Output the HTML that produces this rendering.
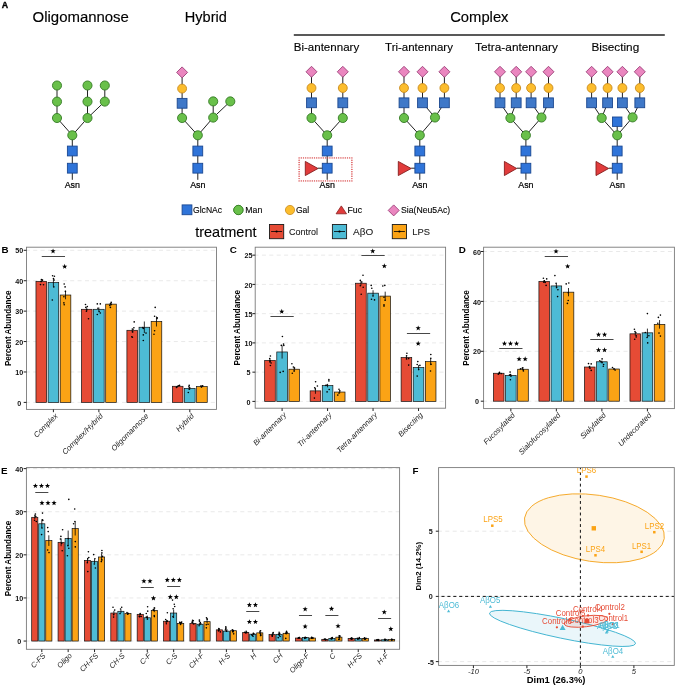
<!DOCTYPE html>
<html><head><meta charset="utf-8"><title>Figure</title>
<style>
html,body{margin:0;padding:0;background:#fff;width:676px;height:685px;overflow:hidden;}
svg{display:block;will-change:transform;}
text{font-family:"Liberation Sans",sans-serif;}
</style></head><body>
<svg width="676" height="685" viewBox="0 0 676 685">
<rect width="676" height="685" fill="#fff"/>
<line x1="72.3" y1="168.2" x2="72.3" y2="179.8" stroke="#222" stroke-width="1" />
<line x1="72.3" y1="168.2" x2="72.3" y2="151" stroke="#222" stroke-width="1" />
<line x1="72.3" y1="151" x2="72.3" y2="135.3" stroke="#222" stroke-width="1" />
<line x1="72.3" y1="135.3" x2="57" y2="118" stroke="#222" stroke-width="1" />
<line x1="72.3" y1="135.3" x2="87.5" y2="118" stroke="#222" stroke-width="1" />
<line x1="57" y1="118" x2="57" y2="85.5" stroke="#222" stroke-width="1" />
<line x1="87.5" y1="118" x2="87.5" y2="85.5" stroke="#222" stroke-width="1" />
<line x1="87.5" y1="118" x2="104.8" y2="101.5" stroke="#222" stroke-width="1" />
<line x1="104.8" y1="101.5" x2="104.8" y2="85.5" stroke="#222" stroke-width="1" />
<rect x="67.4" y="163.3" width="9.8" height="9.8" fill="#2f74d9" stroke="#1a4893" stroke-width="0.9"/>
<rect x="67.4" y="146.1" width="9.8" height="9.8" fill="#2f74d9" stroke="#1a4893" stroke-width="0.9"/>
<circle cx="72.3" cy="135.3" r="4.55" fill="#69c04a" stroke="#347a25" stroke-width="0.9"/>
<circle cx="57" cy="118" r="4.55" fill="#69c04a" stroke="#347a25" stroke-width="0.9"/>
<circle cx="57" cy="101.6" r="4.55" fill="#69c04a" stroke="#347a25" stroke-width="0.9"/>
<circle cx="57" cy="85.5" r="4.55" fill="#69c04a" stroke="#347a25" stroke-width="0.9"/>
<circle cx="87.5" cy="118" r="4.55" fill="#69c04a" stroke="#347a25" stroke-width="0.9"/>
<circle cx="87.5" cy="101.6" r="4.55" fill="#69c04a" stroke="#347a25" stroke-width="0.9"/>
<circle cx="87.5" cy="85.5" r="4.55" fill="#69c04a" stroke="#347a25" stroke-width="0.9"/>
<circle cx="104.8" cy="101.6" r="4.55" fill="#69c04a" stroke="#347a25" stroke-width="0.9"/>
<circle cx="104.8" cy="85.5" r="4.55" fill="#69c04a" stroke="#347a25" stroke-width="0.9"/>
<text x="72.3" y="188.4" font-size="8.9" text-anchor="middle" font-weight="normal" font-style="normal" fill="#000" stroke="#000" stroke-width="0.2">Asn</text>
<line x1="197.8" y1="168.2" x2="197.8" y2="179.8" stroke="#222" stroke-width="1" />
<line x1="197.8" y1="168.2" x2="197.8" y2="151" stroke="#222" stroke-width="1" />
<line x1="197.8" y1="151" x2="197.8" y2="135.3" stroke="#222" stroke-width="1" />
<line x1="197.8" y1="135.3" x2="182.1" y2="118" stroke="#222" stroke-width="1" />
<line x1="197.8" y1="135.3" x2="213.2" y2="117.6" stroke="#222" stroke-width="1" />
<line x1="182.1" y1="118" x2="182.1" y2="72.2" stroke="#222" stroke-width="1" />
<line x1="213.2" y1="117.6" x2="213.2" y2="101.4" stroke="#222" stroke-width="1" />
<line x1="213.2" y1="117.6" x2="230.3" y2="101.4" stroke="#222" stroke-width="1" />
<rect x="192.9" y="163.3" width="9.8" height="9.8" fill="#2f74d9" stroke="#1a4893" stroke-width="0.9"/>
<rect x="192.9" y="146.1" width="9.8" height="9.8" fill="#2f74d9" stroke="#1a4893" stroke-width="0.9"/>
<circle cx="197.8" cy="135.3" r="4.55" fill="#69c04a" stroke="#347a25" stroke-width="0.9"/>
<circle cx="182.1" cy="118" r="4.55" fill="#69c04a" stroke="#347a25" stroke-width="0.9"/>
<rect x="177.2" y="98.4" width="9.8" height="9.8" fill="#3f78c8" stroke="#1b478f" stroke-width="0.9"/>
<circle cx="182.1" cy="88.6" r="4.45" fill="#fcbd2d" stroke="#c98b1e" stroke-width="0.9"/>
<polygon points="182.1,66.9 187.6,72.4 182.1,77.9 176.6,72.4" fill="#ea86bf" stroke="#9c3f78" stroke-width="0.9"/>
<circle cx="213.2" cy="117.6" r="4.55" fill="#69c04a" stroke="#347a25" stroke-width="0.9"/>
<circle cx="213.2" cy="101.4" r="4.55" fill="#69c04a" stroke="#347a25" stroke-width="0.9"/>
<circle cx="230.3" cy="101.4" r="4.55" fill="#69c04a" stroke="#347a25" stroke-width="0.9"/>
<text x="197.8" y="188.4" font-size="8.9" text-anchor="middle" font-weight="normal" font-style="normal" fill="#000" stroke="#000" stroke-width="0.2">Asn</text>
<line x1="327.2" y1="168.2" x2="327.2" y2="179.8" stroke="#222" stroke-width="1" />
<line x1="327.2" y1="168.2" x2="327.2" y2="151" stroke="#222" stroke-width="1" />
<line x1="327.2" y1="151" x2="327.2" y2="135.3" stroke="#222" stroke-width="1" />
<line x1="318" y1="168.2" x2="327.2" y2="168.2" stroke="#222" stroke-width="1" />
<line x1="327.2" y1="135.3" x2="311.5" y2="118" stroke="#222" stroke-width="1" />
<line x1="327.2" y1="135.3" x2="342.8" y2="118" stroke="#222" stroke-width="1" />
<line x1="311.5" y1="118" x2="311.5" y2="71.8" stroke="#222" stroke-width="1" />
<line x1="342.8" y1="118" x2="342.8" y2="71.8" stroke="#222" stroke-width="1" />
<rect x="322.3" y="163.3" width="9.8" height="9.8" fill="#2f74d9" stroke="#1a4893" stroke-width="0.9"/>
<rect x="322.3" y="146.1" width="9.8" height="9.8" fill="#2f74d9" stroke="#1a4893" stroke-width="0.9"/>
<circle cx="327.2" cy="135.3" r="4.55" fill="#69c04a" stroke="#347a25" stroke-width="0.9"/>
<polygon points="305.3,161.45 318,168.5 305.3,175.55" fill="#e13c3c" stroke="#861c1c" stroke-width="0.9"/>
<circle cx="311.5" cy="118" r="4.55" fill="#69c04a" stroke="#347a25" stroke-width="0.9"/>
<rect x="306.6" y="97.9" width="9.8" height="9.8" fill="#3f78c8" stroke="#1b478f" stroke-width="0.9"/>
<circle cx="311.5" cy="88" r="4.45" fill="#fcbd2d" stroke="#c98b1e" stroke-width="0.9"/>
<polygon points="311.5,66.3 317,71.8 311.5,77.3 306,71.8" fill="#ea86bf" stroke="#9c3f78" stroke-width="0.9"/>
<circle cx="342.8" cy="118" r="4.55" fill="#69c04a" stroke="#347a25" stroke-width="0.9"/>
<rect x="337.9" y="97.9" width="9.8" height="9.8" fill="#3f78c8" stroke="#1b478f" stroke-width="0.9"/>
<circle cx="342.8" cy="88" r="4.45" fill="#fcbd2d" stroke="#c98b1e" stroke-width="0.9"/>
<polygon points="342.8,66.3 348.3,71.8 342.8,77.3 337.3,71.8" fill="#ea86bf" stroke="#9c3f78" stroke-width="0.9"/>
<text x="327.2" y="188.4" font-size="8.9" text-anchor="middle" font-weight="normal" font-style="normal" fill="#000" stroke="#000" stroke-width="0.2">Asn</text>
<circle cx="299.1" cy="157.9" r="0.7" fill="#d6393a"/>
<circle cx="299.1" cy="180.9" r="0.7" fill="#d6393a"/>
<circle cx="301.3" cy="157.9" r="0.7" fill="#d6393a"/>
<circle cx="301.3" cy="180.9" r="0.7" fill="#d6393a"/>
<circle cx="303.5" cy="157.9" r="0.7" fill="#d6393a"/>
<circle cx="303.5" cy="180.9" r="0.7" fill="#d6393a"/>
<circle cx="305.7" cy="157.9" r="0.7" fill="#d6393a"/>
<circle cx="305.7" cy="180.9" r="0.7" fill="#d6393a"/>
<circle cx="307.9" cy="157.9" r="0.7" fill="#d6393a"/>
<circle cx="307.9" cy="180.9" r="0.7" fill="#d6393a"/>
<circle cx="310.1" cy="157.9" r="0.7" fill="#d6393a"/>
<circle cx="310.1" cy="180.9" r="0.7" fill="#d6393a"/>
<circle cx="312.3" cy="157.9" r="0.7" fill="#d6393a"/>
<circle cx="312.3" cy="180.9" r="0.7" fill="#d6393a"/>
<circle cx="314.5" cy="157.9" r="0.7" fill="#d6393a"/>
<circle cx="314.5" cy="180.9" r="0.7" fill="#d6393a"/>
<circle cx="316.7" cy="157.9" r="0.7" fill="#d6393a"/>
<circle cx="316.7" cy="180.9" r="0.7" fill="#d6393a"/>
<circle cx="318.9" cy="157.9" r="0.7" fill="#d6393a"/>
<circle cx="318.9" cy="180.9" r="0.7" fill="#d6393a"/>
<circle cx="321.1" cy="157.9" r="0.7" fill="#d6393a"/>
<circle cx="321.1" cy="180.9" r="0.7" fill="#d6393a"/>
<circle cx="323.3" cy="157.9" r="0.7" fill="#d6393a"/>
<circle cx="323.3" cy="180.9" r="0.7" fill="#d6393a"/>
<circle cx="325.5" cy="157.9" r="0.7" fill="#d6393a"/>
<circle cx="325.5" cy="180.9" r="0.7" fill="#d6393a"/>
<circle cx="327.7" cy="157.9" r="0.7" fill="#d6393a"/>
<circle cx="327.7" cy="180.9" r="0.7" fill="#d6393a"/>
<circle cx="329.9" cy="157.9" r="0.7" fill="#d6393a"/>
<circle cx="329.9" cy="180.9" r="0.7" fill="#d6393a"/>
<circle cx="332.1" cy="157.9" r="0.7" fill="#d6393a"/>
<circle cx="332.1" cy="180.9" r="0.7" fill="#d6393a"/>
<circle cx="334.3" cy="157.9" r="0.7" fill="#d6393a"/>
<circle cx="334.3" cy="180.9" r="0.7" fill="#d6393a"/>
<circle cx="336.5" cy="157.9" r="0.7" fill="#d6393a"/>
<circle cx="336.5" cy="180.9" r="0.7" fill="#d6393a"/>
<circle cx="338.7" cy="157.9" r="0.7" fill="#d6393a"/>
<circle cx="338.7" cy="180.9" r="0.7" fill="#d6393a"/>
<circle cx="340.9" cy="157.9" r="0.7" fill="#d6393a"/>
<circle cx="340.9" cy="180.9" r="0.7" fill="#d6393a"/>
<circle cx="343.1" cy="157.9" r="0.7" fill="#d6393a"/>
<circle cx="343.1" cy="180.9" r="0.7" fill="#d6393a"/>
<circle cx="345.3" cy="157.9" r="0.7" fill="#d6393a"/>
<circle cx="345.3" cy="180.9" r="0.7" fill="#d6393a"/>
<circle cx="347.5" cy="157.9" r="0.7" fill="#d6393a"/>
<circle cx="347.5" cy="180.9" r="0.7" fill="#d6393a"/>
<circle cx="349.7" cy="157.9" r="0.7" fill="#d6393a"/>
<circle cx="349.7" cy="180.9" r="0.7" fill="#d6393a"/>
<circle cx="351.9" cy="157.9" r="0.7" fill="#d6393a"/>
<circle cx="351.9" cy="180.9" r="0.7" fill="#d6393a"/>
<circle cx="299.1" cy="160.2" r="0.7" fill="#d6393a"/>
<circle cx="351.9" cy="160.2" r="0.7" fill="#d6393a"/>
<circle cx="299.1" cy="162.5" r="0.7" fill="#d6393a"/>
<circle cx="351.9" cy="162.5" r="0.7" fill="#d6393a"/>
<circle cx="299.1" cy="164.8" r="0.7" fill="#d6393a"/>
<circle cx="351.9" cy="164.8" r="0.7" fill="#d6393a"/>
<circle cx="299.1" cy="167.1" r="0.7" fill="#d6393a"/>
<circle cx="351.9" cy="167.1" r="0.7" fill="#d6393a"/>
<circle cx="299.1" cy="169.4" r="0.7" fill="#d6393a"/>
<circle cx="351.9" cy="169.4" r="0.7" fill="#d6393a"/>
<circle cx="299.1" cy="171.7" r="0.7" fill="#d6393a"/>
<circle cx="351.9" cy="171.7" r="0.7" fill="#d6393a"/>
<circle cx="299.1" cy="174" r="0.7" fill="#d6393a"/>
<circle cx="351.9" cy="174" r="0.7" fill="#d6393a"/>
<circle cx="299.1" cy="176.3" r="0.7" fill="#d6393a"/>
<circle cx="351.9" cy="176.3" r="0.7" fill="#d6393a"/>
<circle cx="299.1" cy="178.6" r="0.7" fill="#d6393a"/>
<circle cx="351.9" cy="178.6" r="0.7" fill="#d6393a"/>
<line x1="419.8" y1="168.2" x2="419.8" y2="179.8" stroke="#222" stroke-width="1" />
<line x1="419.8" y1="168.2" x2="419.8" y2="151" stroke="#222" stroke-width="1" />
<line x1="419.8" y1="151" x2="419.8" y2="135.3" stroke="#222" stroke-width="1" />
<line x1="411.2" y1="168.2" x2="419.8" y2="168.2" stroke="#222" stroke-width="1" />
<line x1="419.8" y1="135.3" x2="404" y2="118" stroke="#222" stroke-width="1" />
<line x1="419.8" y1="135.3" x2="435" y2="117.5" stroke="#222" stroke-width="1" />
<line x1="404" y1="118" x2="404" y2="71.8" stroke="#222" stroke-width="1" />
<line x1="435" y1="117.5" x2="422.5" y2="102.8" stroke="#222" stroke-width="1" />
<line x1="435" y1="117.5" x2="444.4" y2="102.8" stroke="#222" stroke-width="1" />
<line x1="422.5" y1="102.8" x2="422.5" y2="71.8" stroke="#222" stroke-width="1" />
<line x1="444.4" y1="102.8" x2="444.4" y2="71.8" stroke="#222" stroke-width="1" />
<rect x="414.9" y="163.3" width="9.8" height="9.8" fill="#2f74d9" stroke="#1a4893" stroke-width="0.9"/>
<rect x="414.9" y="146.1" width="9.8" height="9.8" fill="#2f74d9" stroke="#1a4893" stroke-width="0.9"/>
<circle cx="419.8" cy="135.3" r="4.55" fill="#69c04a" stroke="#347a25" stroke-width="0.9"/>
<polygon points="398.3,161.45 411.2,168.5 398.3,175.55" fill="#e13c3c" stroke="#861c1c" stroke-width="0.9"/>
<circle cx="404" cy="118" r="4.55" fill="#69c04a" stroke="#347a25" stroke-width="0.9"/>
<circle cx="435" cy="117.5" r="4.55" fill="#69c04a" stroke="#347a25" stroke-width="0.9"/>
<rect x="399.1" y="97.9" width="9.8" height="9.8" fill="#3f78c8" stroke="#1b478f" stroke-width="0.9"/>
<circle cx="404" cy="88" r="4.45" fill="#fcbd2d" stroke="#c98b1e" stroke-width="0.9"/>
<polygon points="404,66.3 409.5,71.8 404,77.3 398.5,71.8" fill="#ea86bf" stroke="#9c3f78" stroke-width="0.9"/>
<rect x="417.6" y="97.9" width="9.8" height="9.8" fill="#3f78c8" stroke="#1b478f" stroke-width="0.9"/>
<circle cx="422.5" cy="88" r="4.45" fill="#fcbd2d" stroke="#c98b1e" stroke-width="0.9"/>
<polygon points="422.5,66.3 428,71.8 422.5,77.3 417,71.8" fill="#ea86bf" stroke="#9c3f78" stroke-width="0.9"/>
<rect x="439.5" y="97.9" width="9.8" height="9.8" fill="#3f78c8" stroke="#1b478f" stroke-width="0.9"/>
<circle cx="444.4" cy="88" r="4.45" fill="#fcbd2d" stroke="#c98b1e" stroke-width="0.9"/>
<polygon points="444.4,66.3 449.9,71.8 444.4,77.3 438.9,71.8" fill="#ea86bf" stroke="#9c3f78" stroke-width="0.9"/>
<text x="419.8" y="188.4" font-size="8.9" text-anchor="middle" font-weight="normal" font-style="normal" fill="#000" stroke="#000" stroke-width="0.2">Asn</text>
<line x1="525.9" y1="168.2" x2="525.9" y2="179.8" stroke="#222" stroke-width="1" />
<line x1="525.9" y1="168.2" x2="525.9" y2="151" stroke="#222" stroke-width="1" />
<line x1="525.9" y1="151" x2="525.9" y2="135.3" stroke="#222" stroke-width="1" />
<line x1="516.7" y1="168.2" x2="525.9" y2="168.2" stroke="#222" stroke-width="1" />
<line x1="525.9" y1="135.3" x2="510.4" y2="118" stroke="#222" stroke-width="1" />
<line x1="525.9" y1="135.3" x2="541.5" y2="117.5" stroke="#222" stroke-width="1" />
<line x1="510.4" y1="118" x2="500" y2="102.8" stroke="#222" stroke-width="1" />
<line x1="510.4" y1="118" x2="516.2" y2="102.8" stroke="#222" stroke-width="1" />
<line x1="541.5" y1="117.5" x2="531.1" y2="102.8" stroke="#222" stroke-width="1" />
<line x1="541.5" y1="117.5" x2="548.5" y2="102.8" stroke="#222" stroke-width="1" />
<line x1="500" y1="102.8" x2="500" y2="71.8" stroke="#222" stroke-width="1" />
<line x1="516.2" y1="102.8" x2="516.2" y2="71.8" stroke="#222" stroke-width="1" />
<line x1="531.1" y1="102.8" x2="531.1" y2="71.8" stroke="#222" stroke-width="1" />
<line x1="548.5" y1="102.8" x2="548.5" y2="71.8" stroke="#222" stroke-width="1" />
<rect x="521" y="163.3" width="9.8" height="9.8" fill="#2f74d9" stroke="#1a4893" stroke-width="0.9"/>
<rect x="521" y="146.1" width="9.8" height="9.8" fill="#2f74d9" stroke="#1a4893" stroke-width="0.9"/>
<circle cx="525.9" cy="135.3" r="4.55" fill="#69c04a" stroke="#347a25" stroke-width="0.9"/>
<polygon points="504.4,161.45 516.7,168.5 504.4,175.55" fill="#e13c3c" stroke="#861c1c" stroke-width="0.9"/>
<circle cx="510.4" cy="118" r="4.55" fill="#69c04a" stroke="#347a25" stroke-width="0.9"/>
<circle cx="541.5" cy="117.5" r="4.55" fill="#69c04a" stroke="#347a25" stroke-width="0.9"/>
<rect x="495.1" y="97.9" width="9.8" height="9.8" fill="#3f78c8" stroke="#1b478f" stroke-width="0.9"/>
<circle cx="500" cy="88" r="4.45" fill="#fcbd2d" stroke="#c98b1e" stroke-width="0.9"/>
<polygon points="500,66.3 505.5,71.8 500,77.3 494.5,71.8" fill="#ea86bf" stroke="#9c3f78" stroke-width="0.9"/>
<rect x="511.3" y="97.9" width="9.8" height="9.8" fill="#3f78c8" stroke="#1b478f" stroke-width="0.9"/>
<circle cx="516.2" cy="88" r="4.45" fill="#fcbd2d" stroke="#c98b1e" stroke-width="0.9"/>
<polygon points="516.2,66.3 521.7,71.8 516.2,77.3 510.7,71.8" fill="#ea86bf" stroke="#9c3f78" stroke-width="0.9"/>
<rect x="526.2" y="97.9" width="9.8" height="9.8" fill="#3f78c8" stroke="#1b478f" stroke-width="0.9"/>
<circle cx="531.1" cy="88" r="4.45" fill="#fcbd2d" stroke="#c98b1e" stroke-width="0.9"/>
<polygon points="531.1,66.3 536.6,71.8 531.1,77.3 525.6,71.8" fill="#ea86bf" stroke="#9c3f78" stroke-width="0.9"/>
<rect x="543.6" y="97.9" width="9.8" height="9.8" fill="#3f78c8" stroke="#1b478f" stroke-width="0.9"/>
<circle cx="548.5" cy="88" r="4.45" fill="#fcbd2d" stroke="#c98b1e" stroke-width="0.9"/>
<polygon points="548.5,66.3 554,71.8 548.5,77.3 543,71.8" fill="#ea86bf" stroke="#9c3f78" stroke-width="0.9"/>
<text x="525.9" y="188.4" font-size="8.9" text-anchor="middle" font-weight="normal" font-style="normal" fill="#000" stroke="#000" stroke-width="0.2">Asn</text>
<line x1="617.2" y1="168.2" x2="617.2" y2="179.8" stroke="#222" stroke-width="1" />
<line x1="617.2" y1="168.2" x2="617.2" y2="151" stroke="#222" stroke-width="1" />
<line x1="617.2" y1="151" x2="617.2" y2="135.3" stroke="#222" stroke-width="1" />
<line x1="608.6" y1="168.2" x2="617.2" y2="168.2" stroke="#222" stroke-width="1" />
<line x1="617.2" y1="135.3" x2="601.7" y2="118" stroke="#222" stroke-width="1" />
<line x1="617.2" y1="135.3" x2="632.6" y2="117.4" stroke="#222" stroke-width="1" />
<line x1="617.2" y1="135.3" x2="617.2" y2="121.7" stroke="#222" stroke-width="1" />
<line x1="601.7" y1="118" x2="591.6" y2="102.8" stroke="#222" stroke-width="1" />
<line x1="601.7" y1="118" x2="607.6" y2="102.8" stroke="#222" stroke-width="1" />
<line x1="632.6" y1="117.4" x2="622.4" y2="102.8" stroke="#222" stroke-width="1" />
<line x1="632.6" y1="117.4" x2="639.8" y2="102.8" stroke="#222" stroke-width="1" />
<line x1="591.6" y1="102.8" x2="591.6" y2="71.8" stroke="#222" stroke-width="1" />
<line x1="607.6" y1="102.8" x2="607.6" y2="71.8" stroke="#222" stroke-width="1" />
<line x1="622.4" y1="102.8" x2="622.4" y2="71.8" stroke="#222" stroke-width="1" />
<line x1="639.8" y1="102.8" x2="639.8" y2="71.8" stroke="#222" stroke-width="1" />
<rect x="612.3" y="163.3" width="9.8" height="9.8" fill="#2f74d9" stroke="#1a4893" stroke-width="0.9"/>
<rect x="612.3" y="146.1" width="9.8" height="9.8" fill="#2f74d9" stroke="#1a4893" stroke-width="0.9"/>
<circle cx="617.2" cy="135.3" r="4.55" fill="#69c04a" stroke="#347a25" stroke-width="0.9"/>
<polygon points="596,161.45 608.6,168.5 596,175.55" fill="#e13c3c" stroke="#861c1c" stroke-width="0.9"/>
<circle cx="601.7" cy="118" r="4.55" fill="#69c04a" stroke="#347a25" stroke-width="0.9"/>
<circle cx="632.6" cy="117.4" r="4.55" fill="#69c04a" stroke="#347a25" stroke-width="0.9"/>
<rect x="612.5" y="117" width="9.4" height="9.4" fill="#2f74d9" stroke="#1a4893" stroke-width="0.9"/>
<rect x="586.7" y="97.9" width="9.8" height="9.8" fill="#3f78c8" stroke="#1b478f" stroke-width="0.9"/>
<circle cx="591.6" cy="88" r="4.45" fill="#fcbd2d" stroke="#c98b1e" stroke-width="0.9"/>
<polygon points="591.6,66.3 597.1,71.8 591.6,77.3 586.1,71.8" fill="#ea86bf" stroke="#9c3f78" stroke-width="0.9"/>
<rect x="602.7" y="97.9" width="9.8" height="9.8" fill="#3f78c8" stroke="#1b478f" stroke-width="0.9"/>
<circle cx="607.6" cy="88" r="4.45" fill="#fcbd2d" stroke="#c98b1e" stroke-width="0.9"/>
<polygon points="607.6,66.3 613.1,71.8 607.6,77.3 602.1,71.8" fill="#ea86bf" stroke="#9c3f78" stroke-width="0.9"/>
<rect x="617.5" y="97.9" width="9.8" height="9.8" fill="#3f78c8" stroke="#1b478f" stroke-width="0.9"/>
<circle cx="622.4" cy="88" r="4.45" fill="#fcbd2d" stroke="#c98b1e" stroke-width="0.9"/>
<polygon points="622.4,66.3 627.9,71.8 622.4,77.3 616.9,71.8" fill="#ea86bf" stroke="#9c3f78" stroke-width="0.9"/>
<rect x="634.9" y="97.9" width="9.8" height="9.8" fill="#3f78c8" stroke="#1b478f" stroke-width="0.9"/>
<circle cx="639.8" cy="88" r="4.45" fill="#fcbd2d" stroke="#c98b1e" stroke-width="0.9"/>
<polygon points="639.8,66.3 645.3,71.8 639.8,77.3 634.3,71.8" fill="#ea86bf" stroke="#9c3f78" stroke-width="0.9"/>
<text x="617.2" y="188.4" font-size="8.9" text-anchor="middle" font-weight="normal" font-style="normal" fill="#000" stroke="#000" stroke-width="0.2">Asn</text>
<text x="1.7" y="8.1" font-size="8.8" text-anchor="start" font-weight="bold" font-style="normal" fill="#000" stroke="#000" stroke-width="0.35">A</text>
<text x="32.6" y="21.7" font-size="15.5" text-anchor="start" font-weight="normal" font-style="normal" fill="#000" textLength="96.3" lengthAdjust="spacingAndGlyphs" stroke="#000" stroke-width="0.15">Oligomannose</text>
<text x="184.8" y="21.8" font-size="15.5" text-anchor="start" font-weight="normal" font-style="normal" fill="#000" textLength="42" lengthAdjust="spacingAndGlyphs" stroke="#000" stroke-width="0.15">Hybrid</text>
<text x="450.2" y="21.7" font-size="15.3" text-anchor="start" font-weight="normal" font-style="normal" fill="#000" textLength="58.3" lengthAdjust="spacingAndGlyphs" stroke="#000" stroke-width="0.15">Complex</text>
<line x1="293.8" y1="35" x2="664.8" y2="35" stroke="#222" stroke-width="1.6" />
<text x="293.7" y="50.9" font-size="11" text-anchor="start" font-weight="normal" font-style="normal" fill="#000" textLength="65.5" lengthAdjust="spacingAndGlyphs" stroke="#000" stroke-width="0.12">Bi-antennary</text>
<text x="385.1" y="50.9" font-size="11" text-anchor="start" font-weight="normal" font-style="normal" fill="#000" textLength="67.8" lengthAdjust="spacingAndGlyphs" stroke="#000" stroke-width="0.12">Tri-antennary</text>
<text x="475.1" y="50.9" font-size="11" text-anchor="start" font-weight="normal" font-style="normal" fill="#000" textLength="82.8" lengthAdjust="spacingAndGlyphs" stroke="#000" stroke-width="0.12">Tetra-antennary</text>
<text x="591.5" y="50.9" font-size="11" text-anchor="start" font-weight="normal" font-style="normal" fill="#000" textLength="47.7" lengthAdjust="spacingAndGlyphs" stroke="#000" stroke-width="0.12">Bisecting</text>
<rect x="182.1" y="204.9" width="9.8" height="9.8" fill="#2f74d9" stroke="#1a4893" stroke-width="0.9"/>
<text x="193" y="212.6" font-size="8.4" text-anchor="start" font-weight="normal" font-style="normal" fill="#000" textLength="29.1" lengthAdjust="spacingAndGlyphs" stroke="#000" stroke-width="0.1">GlcNAc</text>
<circle cx="238.4" cy="210" r="4.55" fill="#69c04a" stroke="#347a25" stroke-width="0.9"/>
<circle cx="238.4" cy="210" r="4.7" fill="#69c04a" stroke="#347a25" stroke-width="0.8"/>
<text x="245.3" y="212.6" font-size="8.4" text-anchor="start" font-weight="normal" font-style="normal" fill="#000" textLength="17" lengthAdjust="spacingAndGlyphs" stroke="#000" stroke-width="0.1">Man</text>
<circle cx="290" cy="210" r="4.6" fill="#fcbd2d" stroke="#c98b1e" stroke-width="0.8"/>
<text x="295.9" y="212.6" font-size="8.4" text-anchor="start" font-weight="normal" font-style="normal" fill="#000" textLength="13.3" lengthAdjust="spacingAndGlyphs" stroke="#000" stroke-width="0.1">Gal</text>
<polygon points="341.3,205.9 346.5,213.8 336.1,213.8" fill="#e13c3c" stroke="#861c1c" stroke-width="0.8"/>
<text x="347.5" y="212.6" font-size="8.4" text-anchor="start" font-weight="normal" font-style="normal" fill="#000" textLength="14.6" lengthAdjust="spacingAndGlyphs" stroke="#000" stroke-width="0.1">Fuc</text>
<polygon points="393.7,204.9 399.2,210.4 393.7,215.9 388.2,210.4" fill="#ea86bf" stroke="#9c3f78" stroke-width="0.9"/>
<text x="401" y="212.6" font-size="8.4" text-anchor="start" font-weight="normal" font-style="normal" fill="#000" textLength="49.2" lengthAdjust="spacingAndGlyphs" stroke="#000" stroke-width="0.1">Sia(Neu5Ac)</text>
<text x="195.2" y="237.2" font-size="14.8" text-anchor="start" font-weight="normal" font-style="normal" fill="#000" textLength="61.3" lengthAdjust="spacingAndGlyphs" stroke="#000" stroke-width="0.12">treatment</text>
<rect x="269.5" y="224.5" width="14.2" height="14.2" fill="#E64B35" stroke="#1a1a1a" stroke-width="0.9"/>
<line x1="271.1" y1="231.5" x2="282.1" y2="231.5" stroke="#000" stroke-width="0.8" />
<circle cx="276.6" cy="231.5" r="1.1" fill="#000"/>
<text x="289" y="235" font-size="9.2" text-anchor="start" font-weight="normal" font-style="normal" fill="#222" textLength="29" lengthAdjust="spacingAndGlyphs" stroke="#222" stroke-width="0.1">Control</text>
<rect x="332.4" y="224.5" width="14.2" height="14.2" fill="#4DBBD5" stroke="#1a1a1a" stroke-width="0.9"/>
<line x1="334" y1="231.5" x2="345" y2="231.5" stroke="#000" stroke-width="0.8" />
<circle cx="339.5" cy="231.5" r="1.1" fill="#000"/>
<text x="353.1" y="235" font-size="9.2" text-anchor="start" font-weight="normal" font-style="normal" fill="#222" textLength="20.2" lengthAdjust="spacingAndGlyphs" stroke="#222" stroke-width="0.1">A&#946;O</text>
<rect x="392.3" y="224.5" width="14.2" height="14.2" fill="#FBA315" stroke="#1a1a1a" stroke-width="0.9"/>
<line x1="393.9" y1="231.5" x2="404.9" y2="231.5" stroke="#000" stroke-width="0.8" />
<circle cx="399.4" cy="231.5" r="1.1" fill="#000"/>
<text x="412.3" y="235" font-size="9.2" text-anchor="start" font-weight="normal" font-style="normal" fill="#222" textLength="17.7" lengthAdjust="spacingAndGlyphs" stroke="#222" stroke-width="0.1">LPS</text>
<text x="1.4" y="253" font-size="9.8" text-anchor="start" font-weight="bold" font-style="normal" fill="#000" >B</text>
<line x1="26.5" y1="402.4" x2="216.5" y2="402.4" stroke="#dadada" stroke-width="0.6" stroke-dasharray="4.0,3.4" stroke-dashoffset="0.7"/>
<line x1="26.5" y1="371.98" x2="216.5" y2="371.98" stroke="#dadada" stroke-width="0.6" stroke-dasharray="4.0,3.4" stroke-dashoffset="0.7"/>
<line x1="26.5" y1="341.56" x2="216.5" y2="341.56" stroke="#dadada" stroke-width="0.6" stroke-dasharray="4.0,3.4" stroke-dashoffset="0.7"/>
<line x1="26.5" y1="311.14" x2="216.5" y2="311.14" stroke="#dadada" stroke-width="0.6" stroke-dasharray="4.0,3.4" stroke-dashoffset="0.7"/>
<line x1="26.5" y1="280.72" x2="216.5" y2="280.72" stroke="#dadada" stroke-width="0.6" stroke-dasharray="4.0,3.4" stroke-dashoffset="0.7"/>
<line x1="26.5" y1="250.3" x2="216.5" y2="250.3" stroke="#dadada" stroke-width="0.6" stroke-dasharray="4.0,3.4" stroke-dashoffset="0.7"/>
<rect x="35.97" y="281.33" width="10.61" height="121.07" fill="#E64B35" stroke="#111" stroke-width="0.7"/>
<rect x="48.1" y="282.55" width="10.61" height="119.85" fill="#4DBBD5" stroke="#111" stroke-width="0.7"/>
<rect x="60.22" y="295.02" width="10.61" height="107.38" fill="#FBA315" stroke="#111" stroke-width="0.7"/>
<circle cx="40.5" cy="284.6" r="0.82" fill="#000"/>
<circle cx="43.5" cy="284.7" r="0.82" fill="#000"/>
<circle cx="41.4" cy="279.5" r="0.82" fill="#000"/>
<circle cx="42.2" cy="280.3" r="0.82" fill="#000"/>
<circle cx="41" cy="281.5" r="0.82" fill="#000"/>
<circle cx="42.5" cy="280" r="0.82" fill="#000"/>
<line x1="41.27" y1="282.24" x2="41.27" y2="280.42" stroke="#000" stroke-width="0.8" />
<circle cx="52.6" cy="275.7" r="0.82" fill="#000"/>
<circle cx="54.4" cy="276.3" r="0.82" fill="#000"/>
<circle cx="54.1" cy="280.1" r="0.82" fill="#000"/>
<circle cx="53.8" cy="286.9" r="0.82" fill="#000"/>
<circle cx="52.3" cy="300" r="0.82" fill="#000"/>
<circle cx="53.5" cy="278.5" r="0.82" fill="#000"/>
<line x1="53.4" y1="286.5" x2="53.4" y2="278.59" stroke="#000" stroke-width="0.8" />
<circle cx="64.2" cy="284" r="0.82" fill="#000"/>
<circle cx="65.1" cy="286.9" r="0.82" fill="#000"/>
<circle cx="65.4" cy="291.4" r="0.82" fill="#000"/>
<circle cx="63.9" cy="296.7" r="0.82" fill="#000"/>
<circle cx="63.9" cy="302.9" r="0.82" fill="#000"/>
<circle cx="64.2" cy="304.7" r="0.82" fill="#000"/>
<line x1="65.53" y1="299.28" x2="65.53" y2="290.76" stroke="#000" stroke-width="0.8" />
<rect x="81.44" y="309.31" width="10.61" height="93.09" fill="#E64B35" stroke="#111" stroke-width="0.7"/>
<rect x="93.57" y="309.31" width="10.61" height="93.09" fill="#4DBBD5" stroke="#111" stroke-width="0.7"/>
<rect x="105.69" y="304.14" width="10.61" height="98.26" fill="#FBA315" stroke="#111" stroke-width="0.7"/>
<circle cx="85.5" cy="304.5" r="0.82" fill="#000"/>
<circle cx="87.3" cy="306.5" r="0.82" fill="#000"/>
<circle cx="85.8" cy="307.4" r="0.82" fill="#000"/>
<circle cx="86.7" cy="309.8" r="0.82" fill="#000"/>
<circle cx="86.4" cy="311.3" r="0.82" fill="#000"/>
<circle cx="88.5" cy="318.7" r="0.82" fill="#000"/>
<line x1="86.74" y1="311.14" x2="86.74" y2="307.49" stroke="#000" stroke-width="0.8" />
<circle cx="97.3" cy="303.9" r="0.82" fill="#000"/>
<circle cx="100.3" cy="303.9" r="0.82" fill="#000"/>
<circle cx="97.9" cy="308.3" r="0.82" fill="#000"/>
<circle cx="99.1" cy="311.6" r="0.82" fill="#000"/>
<circle cx="100.3" cy="313" r="0.82" fill="#000"/>
<circle cx="97.3" cy="314.5" r="0.82" fill="#000"/>
<line x1="98.87" y1="311.14" x2="98.87" y2="307.49" stroke="#000" stroke-width="0.8" />
<circle cx="110.4" cy="303.8" r="0.82" fill="#000"/>
<circle cx="111.2" cy="302.4" r="0.82" fill="#000"/>
<circle cx="109.8" cy="305.4" r="0.82" fill="#000"/>
<circle cx="110.4" cy="307.4" r="0.82" fill="#000"/>
<circle cx="111" cy="304.5" r="0.82" fill="#000"/>
<line x1="111" y1="305.36" x2="111" y2="302.93" stroke="#000" stroke-width="0.8" />
<rect x="126.91" y="330.3" width="10.61" height="72.1" fill="#E64B35" stroke="#111" stroke-width="0.7"/>
<rect x="139.04" y="327.26" width="10.61" height="75.14" fill="#4DBBD5" stroke="#111" stroke-width="0.7"/>
<rect x="151.16" y="321.48" width="10.61" height="80.92" fill="#FBA315" stroke="#111" stroke-width="0.7"/>
<circle cx="134.2" cy="321.9" r="0.82" fill="#000"/>
<circle cx="133.9" cy="327.8" r="0.82" fill="#000"/>
<circle cx="133" cy="329.3" r="0.82" fill="#000"/>
<circle cx="132.7" cy="331.9" r="0.82" fill="#000"/>
<circle cx="131.8" cy="336.7" r="0.82" fill="#000"/>
<circle cx="132.4" cy="337.2" r="0.82" fill="#000"/>
<line x1="132.21" y1="332.43" x2="132.21" y2="328.18" stroke="#000" stroke-width="0.8" />
<circle cx="142.8" cy="327.5" r="0.82" fill="#000"/>
<circle cx="143.3" cy="328.4" r="0.82" fill="#000"/>
<circle cx="146" cy="333.1" r="0.82" fill="#000"/>
<circle cx="143.3" cy="334.9" r="0.82" fill="#000"/>
<circle cx="143.3" cy="340.5" r="0.82" fill="#000"/>
<line x1="144.34" y1="333.04" x2="144.34" y2="321.48" stroke="#000" stroke-width="0.8" />
<circle cx="155.2" cy="307.4" r="0.82" fill="#000"/>
<circle cx="154.6" cy="316.2" r="0.82" fill="#000"/>
<circle cx="157.2" cy="317.7" r="0.82" fill="#000"/>
<circle cx="154.6" cy="330.7" r="0.82" fill="#000"/>
<circle cx="154" cy="334.3" r="0.82" fill="#000"/>
<circle cx="157" cy="318.6" r="0.82" fill="#000"/>
<line x1="156.47" y1="326.5" x2="156.47" y2="316.46" stroke="#000" stroke-width="0.8" />
<rect x="172.38" y="386.28" width="10.61" height="16.12" fill="#E64B35" stroke="#111" stroke-width="0.7"/>
<rect x="184.51" y="388.41" width="10.61" height="13.99" fill="#4DBBD5" stroke="#111" stroke-width="0.7"/>
<rect x="196.63" y="386.58" width="10.61" height="15.82" fill="#FBA315" stroke="#111" stroke-width="0.7"/>
<circle cx="177.1" cy="386.8" r="0.82" fill="#000"/>
<circle cx="178.3" cy="385.7" r="0.82" fill="#000"/>
<circle cx="179.5" cy="385.4" r="0.82" fill="#000"/>
<circle cx="176.5" cy="387.4" r="0.82" fill="#000"/>
<line x1="177.68" y1="386.73" x2="177.68" y2="385.82" stroke="#000" stroke-width="0.8" />
<circle cx="189.2" cy="385.4" r="0.82" fill="#000"/>
<circle cx="188.9" cy="386.8" r="0.82" fill="#000"/>
<circle cx="189.5" cy="387.7" r="0.82" fill="#000"/>
<circle cx="189.2" cy="389.2" r="0.82" fill="#000"/>
<circle cx="188.3" cy="392.5" r="0.82" fill="#000"/>
<line x1="189.81" y1="389.62" x2="189.81" y2="387.19" stroke="#000" stroke-width="0.8" />
<circle cx="200.8" cy="386" r="0.82" fill="#000"/>
<circle cx="202.2" cy="385.7" r="0.82" fill="#000"/>
<circle cx="201.4" cy="387.1" r="0.82" fill="#000"/>
<circle cx="202.8" cy="386" r="0.82" fill="#000"/>
<line x1="201.94" y1="387.19" x2="201.94" y2="385.97" stroke="#000" stroke-width="0.8" />
<line x1="41.77" y1="256.5" x2="65.03" y2="256.5" stroke="#333" stroke-width="0.9" />
<polygon points="53.05,248.45 53.73,250.27 55.67,250.35 54.14,251.56 54.67,253.42 53.05,252.35 51.43,253.42 51.96,251.56 50.43,250.35 52.37,250.27" fill="#000"/>
<polygon points="64.68,263.85 65.35,265.67 67.29,265.75 65.77,266.96 66.29,268.82 64.68,267.75 63.06,268.82 63.58,266.96 62.06,265.75 64,265.67" fill="#000"/>
<rect x="26.5" y="247.2" width="190" height="162.2" fill="none" stroke="#7a7a7a" stroke-width="0.9"/>
<line x1="23.7" y1="402.4" x2="26.5" y2="402.4" stroke="#222" stroke-width="1" />
<text x="19.35" y="405.5" font-size="7.8" text-anchor="middle" font-weight="bold" font-style="normal" fill="#111" textLength="4" lengthAdjust="spacingAndGlyphs" >0</text>
<line x1="23.7" y1="371.98" x2="26.5" y2="371.98" stroke="#222" stroke-width="1" />
<text x="19.35" y="375.08" font-size="7.8" text-anchor="middle" font-weight="bold" font-style="normal" fill="#111" textLength="8" lengthAdjust="spacingAndGlyphs" >10</text>
<line x1="23.7" y1="341.56" x2="26.5" y2="341.56" stroke="#222" stroke-width="1" />
<text x="19.35" y="344.66" font-size="7.8" text-anchor="middle" font-weight="bold" font-style="normal" fill="#111" textLength="8" lengthAdjust="spacingAndGlyphs" >20</text>
<line x1="23.7" y1="311.14" x2="26.5" y2="311.14" stroke="#222" stroke-width="1" />
<text x="19.35" y="314.24" font-size="7.8" text-anchor="middle" font-weight="bold" font-style="normal" fill="#111" textLength="8" lengthAdjust="spacingAndGlyphs" >30</text>
<line x1="23.7" y1="280.72" x2="26.5" y2="280.72" stroke="#222" stroke-width="1" />
<text x="19.35" y="283.82" font-size="7.8" text-anchor="middle" font-weight="bold" font-style="normal" fill="#111" textLength="8" lengthAdjust="spacingAndGlyphs" >40</text>
<line x1="23.7" y1="250.3" x2="26.5" y2="250.3" stroke="#222" stroke-width="1" />
<text x="19.35" y="253.4" font-size="7.8" text-anchor="middle" font-weight="bold" font-style="normal" fill="#111" textLength="8" lengthAdjust="spacingAndGlyphs" >50</text>
<line x1="53.4" y1="409.4" x2="53.4" y2="412.2" stroke="#222" stroke-width="1" />
<text transform="translate(58.1,416.6) rotate(-45)" font-size="7.65" text-anchor="end" font-style="italic" fill="#222">Complex</text>
<line x1="98.87" y1="409.4" x2="98.87" y2="412.2" stroke="#222" stroke-width="1" />
<text transform="translate(103.57,416.6) rotate(-45)" font-size="7.65" text-anchor="end" font-style="italic" fill="#222">Complex/Hybrid</text>
<line x1="144.34" y1="409.4" x2="144.34" y2="412.2" stroke="#222" stroke-width="1" />
<text transform="translate(149.04,416.6) rotate(-45)" font-size="7.65" text-anchor="end" font-style="italic" fill="#222">Oligomannose</text>
<line x1="189.81" y1="409.4" x2="189.81" y2="412.2" stroke="#222" stroke-width="1" />
<text transform="translate(194.51,416.6) rotate(-45)" font-size="7.65" text-anchor="end" font-style="italic" fill="#222">Hybrid</text>
<text transform="translate(11,328.3) scale(1.15,1) rotate(-90)" font-size="8.1" text-anchor="middle" font-weight="bold" fill="#000" textLength="75.5" lengthAdjust="spacingAndGlyphs">Percent Abundance</text>
<text x="229.7" y="253.3" font-size="9.8" text-anchor="start" font-weight="bold" font-style="normal" fill="#000" >C</text>
<line x1="255.2" y1="401.4" x2="445.6" y2="401.4" stroke="#dadada" stroke-width="0.6" stroke-dasharray="4.0,3.4" stroke-dashoffset="0.7"/>
<line x1="255.2" y1="372.15" x2="445.6" y2="372.15" stroke="#dadada" stroke-width="0.6" stroke-dasharray="4.0,3.4" stroke-dashoffset="0.7"/>
<line x1="255.2" y1="342.9" x2="445.6" y2="342.9" stroke="#dadada" stroke-width="0.6" stroke-dasharray="4.0,3.4" stroke-dashoffset="0.7"/>
<line x1="255.2" y1="313.65" x2="445.6" y2="313.65" stroke="#dadada" stroke-width="0.6" stroke-dasharray="4.0,3.4" stroke-dashoffset="0.7"/>
<line x1="255.2" y1="284.4" x2="445.6" y2="284.4" stroke="#dadada" stroke-width="0.6" stroke-dasharray="4.0,3.4" stroke-dashoffset="0.7"/>
<line x1="255.2" y1="255.15" x2="445.6" y2="255.15" stroke="#dadada" stroke-width="0.6" stroke-dasharray="4.0,3.4" stroke-dashoffset="0.7"/>
<rect x="264.67" y="360.45" width="10.61" height="40.95" fill="#E64B35" stroke="#111" stroke-width="0.7"/>
<rect x="276.79" y="351.97" width="10.61" height="49.43" fill="#4DBBD5" stroke="#111" stroke-width="0.7"/>
<rect x="288.92" y="369.22" width="10.61" height="32.18" fill="#FBA315" stroke="#111" stroke-width="0.7"/>
<circle cx="270.4" cy="356" r="0.82" fill="#000"/>
<circle cx="269.7" cy="358.6" r="0.82" fill="#000"/>
<circle cx="270" cy="361.9" r="0.82" fill="#000"/>
<circle cx="271.1" cy="363" r="0.82" fill="#000"/>
<circle cx="270.4" cy="365.5" r="0.82" fill="#000"/>
<circle cx="270" cy="360.8" r="0.82" fill="#000"/>
<line x1="269.97" y1="362.2" x2="269.97" y2="358.69" stroke="#000" stroke-width="0.8" />
<circle cx="282.4" cy="336.5" r="0.82" fill="#000"/>
<circle cx="281.3" cy="345.4" r="0.82" fill="#000"/>
<circle cx="283.5" cy="344.1" r="0.82" fill="#000"/>
<circle cx="283.8" cy="345.4" r="0.82" fill="#000"/>
<circle cx="280.2" cy="372.4" r="0.82" fill="#000"/>
<circle cx="283.2" cy="371.4" r="0.82" fill="#000"/>
<line x1="282.1" y1="358.58" x2="282.1" y2="345.36" stroke="#000" stroke-width="0.8" />
<circle cx="291.9" cy="363.7" r="0.82" fill="#000"/>
<circle cx="293.4" cy="367" r="0.82" fill="#000"/>
<circle cx="294.5" cy="368.1" r="0.82" fill="#000"/>
<circle cx="294.1" cy="371" r="0.82" fill="#000"/>
<circle cx="292.3" cy="373.2" r="0.82" fill="#000"/>
<line x1="294.23" y1="371.56" x2="294.23" y2="366.88" stroke="#000" stroke-width="0.8" />
<rect x="310.15" y="390.87" width="10.61" height="10.53" fill="#E64B35" stroke="#111" stroke-width="0.7"/>
<rect x="322.27" y="385.6" width="10.61" height="15.8" fill="#4DBBD5" stroke="#111" stroke-width="0.7"/>
<rect x="334.4" y="392.04" width="10.61" height="9.36" fill="#FBA315" stroke="#111" stroke-width="0.7"/>
<circle cx="315.6" cy="381.8" r="0.82" fill="#000"/>
<circle cx="317.4" cy="386" r="0.82" fill="#000"/>
<circle cx="314.7" cy="387.8" r="0.82" fill="#000"/>
<circle cx="315.3" cy="389" r="0.82" fill="#000"/>
<circle cx="314.4" cy="398.1" r="0.82" fill="#000"/>
<line x1="315.45" y1="393.79" x2="315.45" y2="387.94" stroke="#000" stroke-width="0.8" />
<circle cx="328.9" cy="379.5" r="0.82" fill="#000"/>
<circle cx="328.9" cy="380.9" r="0.82" fill="#000"/>
<circle cx="327.1" cy="385.1" r="0.82" fill="#000"/>
<circle cx="329.2" cy="389.5" r="0.82" fill="#000"/>
<circle cx="327.1" cy="391.9" r="0.82" fill="#000"/>
<circle cx="325.9" cy="385.4" r="0.82" fill="#000"/>
<line x1="327.58" y1="387.36" x2="327.58" y2="383.85" stroke="#000" stroke-width="0.8" />
<circle cx="339" cy="389.2" r="0.82" fill="#000"/>
<circle cx="339.8" cy="390.7" r="0.82" fill="#000"/>
<circle cx="339" cy="393.1" r="0.82" fill="#000"/>
<circle cx="337.8" cy="395.1" r="0.82" fill="#000"/>
<line x1="339.71" y1="393.21" x2="339.71" y2="390.87" stroke="#000" stroke-width="0.8" />
<rect x="355.63" y="283.23" width="10.61" height="118.17" fill="#E64B35" stroke="#111" stroke-width="0.7"/>
<rect x="367.75" y="293.17" width="10.61" height="108.23" fill="#4DBBD5" stroke="#111" stroke-width="0.7"/>
<rect x="379.88" y="296.1" width="10.61" height="105.3" fill="#FBA315" stroke="#111" stroke-width="0.7"/>
<circle cx="363" cy="275.3" r="0.82" fill="#000"/>
<circle cx="360.3" cy="280.4" r="0.82" fill="#000"/>
<circle cx="361.8" cy="282.1" r="0.82" fill="#000"/>
<circle cx="360.3" cy="285.7" r="0.82" fill="#000"/>
<circle cx="363.2" cy="287.2" r="0.82" fill="#000"/>
<circle cx="361.2" cy="294.3" r="0.82" fill="#000"/>
<line x1="360.93" y1="285.57" x2="360.93" y2="280.89" stroke="#000" stroke-width="0.8" />
<circle cx="371.2" cy="285.4" r="0.82" fill="#000"/>
<circle cx="371.8" cy="288.3" r="0.82" fill="#000"/>
<circle cx="373" cy="296" r="0.82" fill="#000"/>
<circle cx="371.5" cy="299.3" r="0.82" fill="#000"/>
<circle cx="374.5" cy="299.9" r="0.82" fill="#000"/>
<line x1="373.06" y1="296.1" x2="373.06" y2="290.25" stroke="#000" stroke-width="0.8" />
<circle cx="382.8" cy="286" r="0.82" fill="#000"/>
<circle cx="384.8" cy="285.4" r="0.82" fill="#000"/>
<circle cx="384" cy="297.2" r="0.82" fill="#000"/>
<circle cx="385.1" cy="300.2" r="0.82" fill="#000"/>
<circle cx="384" cy="304.9" r="0.82" fill="#000"/>
<circle cx="384" cy="306.1" r="0.82" fill="#000"/>
<line x1="385.19" y1="300.55" x2="385.19" y2="291.65" stroke="#000" stroke-width="0.8" />
<rect x="401.11" y="357.52" width="10.61" height="43.88" fill="#E64B35" stroke="#111" stroke-width="0.7"/>
<rect x="413.23" y="367.47" width="10.61" height="33.93" fill="#4DBBD5" stroke="#111" stroke-width="0.7"/>
<rect x="425.36" y="361.62" width="10.61" height="39.78" fill="#FBA315" stroke="#111" stroke-width="0.7"/>
<circle cx="406.9" cy="353.3" r="0.82" fill="#000"/>
<circle cx="406.6" cy="355.7" r="0.82" fill="#000"/>
<circle cx="406.6" cy="358.9" r="0.82" fill="#000"/>
<circle cx="408.7" cy="358.6" r="0.82" fill="#000"/>
<circle cx="408.7" cy="365.1" r="0.82" fill="#000"/>
<line x1="406.41" y1="359.28" x2="406.41" y2="355.77" stroke="#000" stroke-width="0.8" />
<circle cx="417.8" cy="361.6" r="0.82" fill="#000"/>
<circle cx="417.2" cy="364.5" r="0.82" fill="#000"/>
<circle cx="419.9" cy="365.4" r="0.82" fill="#000"/>
<circle cx="418.7" cy="369.6" r="0.82" fill="#000"/>
<circle cx="417.2" cy="376.1" r="0.82" fill="#000"/>
<line x1="418.54" y1="369.81" x2="418.54" y2="365.13" stroke="#000" stroke-width="0.8" />
<circle cx="430.8" cy="354.5" r="0.82" fill="#000"/>
<circle cx="430.8" cy="358.3" r="0.82" fill="#000"/>
<circle cx="431.1" cy="364.2" r="0.82" fill="#000"/>
<circle cx="430.5" cy="371" r="0.82" fill="#000"/>
<line x1="430.67" y1="365.13" x2="430.67" y2="358.11" stroke="#000" stroke-width="0.8" />
<line x1="270.47" y1="316.5" x2="293.73" y2="316.5" stroke="#333" stroke-width="0.9" />
<polygon points="281.75,308.85 282.43,310.67 284.37,310.75 282.84,311.96 283.37,313.82 281.75,312.75 280.13,313.82 280.66,311.96 279.13,310.75 281.07,310.67" fill="#000"/>
<line x1="361.43" y1="255.5" x2="384.69" y2="255.5" stroke="#333" stroke-width="0.9" />
<polygon points="372.71,248.45 373.39,250.27 375.33,250.35 373.8,251.56 374.33,253.42 372.71,252.35 371.09,253.42 371.62,251.56 370.09,250.35 372.03,250.27" fill="#000"/>
<polygon points="384.34,263.35 385.01,265.17 386.95,265.25 385.43,266.46 385.95,268.32 384.34,267.25 382.72,268.32 383.24,266.46 381.72,265.25 383.66,265.17" fill="#000"/>
<line x1="406.91" y1="333.5" x2="430.17" y2="333.5" stroke="#333" stroke-width="0.9" />
<polygon points="418.19,325.45 418.87,327.27 420.81,327.35 419.28,328.56 419.81,330.42 418.19,329.35 416.57,330.42 417.1,328.56 415.57,327.35 417.51,327.27" fill="#000"/>
<polygon points="418.19,340.85 418.87,342.67 420.81,342.75 419.28,343.96 419.81,345.82 418.19,344.75 416.57,345.82 417.1,343.96 415.57,342.75 417.51,342.67" fill="#000"/>
<rect x="255.2" y="247.2" width="190.4" height="161" fill="none" stroke="#7a7a7a" stroke-width="0.9"/>
<line x1="252.4" y1="401.4" x2="255.2" y2="401.4" stroke="#222" stroke-width="1" />
<text x="248.4" y="404.5" font-size="7.8" text-anchor="middle" font-weight="bold" font-style="normal" fill="#111" textLength="4" lengthAdjust="spacingAndGlyphs" >0</text>
<line x1="252.4" y1="372.15" x2="255.2" y2="372.15" stroke="#222" stroke-width="1" />
<text x="248.4" y="375.25" font-size="7.8" text-anchor="middle" font-weight="bold" font-style="normal" fill="#111" textLength="4" lengthAdjust="spacingAndGlyphs" >5</text>
<line x1="252.4" y1="342.9" x2="255.2" y2="342.9" stroke="#222" stroke-width="1" />
<text x="248.4" y="346" font-size="7.8" text-anchor="middle" font-weight="bold" font-style="normal" fill="#111" textLength="8" lengthAdjust="spacingAndGlyphs" >10</text>
<line x1="252.4" y1="313.65" x2="255.2" y2="313.65" stroke="#222" stroke-width="1" />
<text x="248.4" y="316.75" font-size="7.8" text-anchor="middle" font-weight="bold" font-style="normal" fill="#111" textLength="8" lengthAdjust="spacingAndGlyphs" >15</text>
<line x1="252.4" y1="284.4" x2="255.2" y2="284.4" stroke="#222" stroke-width="1" />
<text x="248.4" y="287.5" font-size="7.8" text-anchor="middle" font-weight="bold" font-style="normal" fill="#111" textLength="8" lengthAdjust="spacingAndGlyphs" >20</text>
<line x1="252.4" y1="255.15" x2="255.2" y2="255.15" stroke="#222" stroke-width="1" />
<text x="248.4" y="258.25" font-size="7.8" text-anchor="middle" font-weight="bold" font-style="normal" fill="#111" textLength="8" lengthAdjust="spacingAndGlyphs" >25</text>
<line x1="282.1" y1="408.2" x2="282.1" y2="411" stroke="#222" stroke-width="1" />
<text transform="translate(286.8,415.4) rotate(-45)" font-size="7.65" text-anchor="end" font-style="italic" fill="#222">Bi-antennary</text>
<line x1="327.58" y1="408.2" x2="327.58" y2="411" stroke="#222" stroke-width="1" />
<text transform="translate(332.28,415.4) rotate(-45)" font-size="7.65" text-anchor="end" font-style="italic" fill="#222">Tri-antennary</text>
<line x1="373.06" y1="408.2" x2="373.06" y2="411" stroke="#222" stroke-width="1" />
<text transform="translate(377.76,415.4) rotate(-45)" font-size="7.65" text-anchor="end" font-style="italic" fill="#222">Tetra-antennary</text>
<line x1="418.54" y1="408.2" x2="418.54" y2="411" stroke="#222" stroke-width="1" />
<text transform="translate(423.24,415.4) rotate(-45)" font-size="7.65" text-anchor="end" font-style="italic" fill="#222">Bisecting</text>
<text transform="translate(240.2,327.7) scale(1.15,1) rotate(-90)" font-size="8.1" text-anchor="middle" font-weight="bold" fill="#000" textLength="75.5" lengthAdjust="spacingAndGlyphs">Percent Abundance</text>
<text x="458.8" y="253" font-size="9.8" text-anchor="start" font-weight="bold" font-style="normal" fill="#000" >D</text>
<line x1="483.6" y1="401.2" x2="674.4" y2="401.2" stroke="#dadada" stroke-width="0.6" stroke-dasharray="4.0,3.4" stroke-dashoffset="0.7"/>
<line x1="483.6" y1="351.3" x2="674.4" y2="351.3" stroke="#dadada" stroke-width="0.6" stroke-dasharray="4.0,3.4" stroke-dashoffset="0.7"/>
<line x1="483.6" y1="301.4" x2="674.4" y2="301.4" stroke="#dadada" stroke-width="0.6" stroke-dasharray="4.0,3.4" stroke-dashoffset="0.7"/>
<line x1="483.6" y1="251.5" x2="674.4" y2="251.5" stroke="#dadada" stroke-width="0.6" stroke-dasharray="4.0,3.4" stroke-dashoffset="0.7"/>
<rect x="493.4" y="373.26" width="10.62" height="27.94" fill="#E64B35" stroke="#111" stroke-width="0.7"/>
<rect x="505.54" y="375.5" width="10.62" height="25.7" fill="#4DBBD5" stroke="#111" stroke-width="0.7"/>
<rect x="517.68" y="369.26" width="10.62" height="31.94" fill="#FBA315" stroke="#111" stroke-width="0.7"/>
<circle cx="499.5" cy="372.4" r="0.82" fill="#000"/>
<circle cx="498.3" cy="374.2" r="0.82" fill="#000"/>
<circle cx="501.2" cy="373.6" r="0.82" fill="#000"/>
<circle cx="499.2" cy="373.4" r="0.82" fill="#000"/>
<line x1="498.71" y1="373.75" x2="498.71" y2="372.76" stroke="#000" stroke-width="0.8" />
<circle cx="510.1" cy="372.1" r="0.82" fill="#000"/>
<circle cx="510.4" cy="374.5" r="0.82" fill="#000"/>
<circle cx="509.5" cy="375.1" r="0.82" fill="#000"/>
<circle cx="511" cy="376" r="0.82" fill="#000"/>
<circle cx="510.4" cy="379.8" r="0.82" fill="#000"/>
<line x1="510.85" y1="376.75" x2="510.85" y2="374.25" stroke="#000" stroke-width="0.8" />
<circle cx="520.5" cy="368.9" r="0.82" fill="#000"/>
<circle cx="522.2" cy="368.3" r="0.82" fill="#000"/>
<circle cx="523.1" cy="369.8" r="0.82" fill="#000"/>
<circle cx="523.4" cy="370.9" r="0.82" fill="#000"/>
<circle cx="522.8" cy="367.7" r="0.82" fill="#000"/>
<line x1="522.99" y1="370.01" x2="522.99" y2="368.52" stroke="#000" stroke-width="0.8" />
<rect x="538.92" y="281.44" width="10.62" height="119.76" fill="#E64B35" stroke="#111" stroke-width="0.7"/>
<rect x="551.06" y="285.93" width="10.62" height="115.27" fill="#4DBBD5" stroke="#111" stroke-width="0.7"/>
<rect x="563.2" y="292.17" width="10.62" height="109.03" fill="#FBA315" stroke="#111" stroke-width="0.7"/>
<circle cx="543.4" cy="278.3" r="0.82" fill="#000"/>
<circle cx="546.7" cy="278.9" r="0.82" fill="#000"/>
<circle cx="544.3" cy="280.9" r="0.82" fill="#000"/>
<circle cx="543.7" cy="282.1" r="0.82" fill="#000"/>
<circle cx="545.2" cy="282.4" r="0.82" fill="#000"/>
<circle cx="546.1" cy="285.4" r="0.82" fill="#000"/>
<line x1="544.23" y1="282.69" x2="544.23" y2="280.19" stroke="#000" stroke-width="0.8" />
<circle cx="554.9" cy="275.6" r="0.82" fill="#000"/>
<circle cx="556.1" cy="283.3" r="0.82" fill="#000"/>
<circle cx="556.7" cy="287.2" r="0.82" fill="#000"/>
<circle cx="557.9" cy="289.8" r="0.82" fill="#000"/>
<circle cx="557.6" cy="296.6" r="0.82" fill="#000"/>
<line x1="556.37" y1="288.43" x2="556.37" y2="283.44" stroke="#000" stroke-width="0.8" />
<circle cx="566.2" cy="283.9" r="0.82" fill="#000"/>
<circle cx="568.8" cy="283" r="0.82" fill="#000"/>
<circle cx="568.2" cy="292.8" r="0.82" fill="#000"/>
<circle cx="568.2" cy="300.5" r="0.82" fill="#000"/>
<circle cx="567.4" cy="303.4" r="0.82" fill="#000"/>
<line x1="568.51" y1="296.31" x2="568.51" y2="288.03" stroke="#000" stroke-width="0.8" />
<rect x="584.44" y="367.02" width="10.62" height="34.18" fill="#E64B35" stroke="#111" stroke-width="0.7"/>
<rect x="596.58" y="361.78" width="10.62" height="39.42" fill="#4DBBD5" stroke="#111" stroke-width="0.7"/>
<rect x="608.72" y="369.01" width="10.62" height="32.19" fill="#FBA315" stroke="#111" stroke-width="0.7"/>
<circle cx="588.5" cy="363.6" r="0.82" fill="#000"/>
<circle cx="591.2" cy="363.9" r="0.82" fill="#000"/>
<circle cx="589.4" cy="366.9" r="0.82" fill="#000"/>
<circle cx="590" cy="368.3" r="0.82" fill="#000"/>
<circle cx="591.2" cy="370.4" r="0.82" fill="#000"/>
<line x1="589.75" y1="368.27" x2="589.75" y2="365.77" stroke="#000" stroke-width="0.8" />
<circle cx="602.1" cy="358.9" r="0.82" fill="#000"/>
<circle cx="599.8" cy="360.7" r="0.82" fill="#000"/>
<circle cx="600.9" cy="361.8" r="0.82" fill="#000"/>
<circle cx="602.1" cy="362.7" r="0.82" fill="#000"/>
<circle cx="603.6" cy="364.5" r="0.82" fill="#000"/>
<circle cx="603.3" cy="366.3" r="0.82" fill="#000"/>
<line x1="601.89" y1="363.03" x2="601.89" y2="360.53" stroke="#000" stroke-width="0.8" />
<circle cx="612.5" cy="367.5" r="0.82" fill="#000"/>
<circle cx="614" cy="368.9" r="0.82" fill="#000"/>
<circle cx="615.1" cy="370.1" r="0.82" fill="#000"/>
<line x1="614.03" y1="369.51" x2="614.03" y2="368.52" stroke="#000" stroke-width="0.8" />
<rect x="629.96" y="333.83" width="10.62" height="67.37" fill="#E64B35" stroke="#111" stroke-width="0.7"/>
<rect x="642.1" y="332.84" width="10.62" height="68.36" fill="#4DBBD5" stroke="#111" stroke-width="0.7"/>
<rect x="654.24" y="324.35" width="10.62" height="76.85" fill="#FBA315" stroke="#111" stroke-width="0.7"/>
<circle cx="634.4" cy="329.3" r="0.82" fill="#000"/>
<circle cx="635" cy="331.6" r="0.82" fill="#000"/>
<circle cx="635.9" cy="332.8" r="0.82" fill="#000"/>
<circle cx="636.2" cy="335.8" r="0.82" fill="#000"/>
<circle cx="636.2" cy="337" r="0.82" fill="#000"/>
<circle cx="634.7" cy="339.3" r="0.82" fill="#000"/>
<line x1="635.27" y1="335.58" x2="635.27" y2="332.09" stroke="#000" stroke-width="0.8" />
<circle cx="647.4" cy="313.6" r="0.82" fill="#000"/>
<circle cx="645.3" cy="332.5" r="0.82" fill="#000"/>
<circle cx="648.9" cy="335.8" r="0.82" fill="#000"/>
<circle cx="647.1" cy="337.5" r="0.82" fill="#000"/>
<circle cx="647.7" cy="342.9" r="0.82" fill="#000"/>
<line x1="647.41" y1="337.08" x2="647.41" y2="328.6" stroke="#000" stroke-width="0.8" />
<circle cx="660.4" cy="315.1" r="0.82" fill="#000"/>
<circle cx="658.4" cy="317.4" r="0.82" fill="#000"/>
<circle cx="657.8" cy="323.3" r="0.82" fill="#000"/>
<circle cx="659" cy="333.1" r="0.82" fill="#000"/>
<circle cx="660.4" cy="336.1" r="0.82" fill="#000"/>
<line x1="659.55" y1="328.65" x2="659.55" y2="320.06" stroke="#000" stroke-width="0.8" />
<line x1="499.21" y1="348.5" x2="522.49" y2="348.5" stroke="#333" stroke-width="0.9" />
<polygon points="504.45,340.85 505.13,342.67 507.07,342.75 505.54,343.96 506.07,345.82 504.45,344.75 502.83,345.82 503.36,343.96 501.83,342.75 503.77,342.67" fill="#000"/>
<polygon points="510.5,340.85 511.18,342.67 513.12,342.75 511.59,343.96 512.12,345.82 510.5,344.75 508.88,345.82 509.41,343.96 507.88,342.75 509.82,342.67" fill="#000"/>
<polygon points="516.55,340.85 517.23,342.67 519.17,342.75 517.64,343.96 518.17,345.82 516.55,344.75 514.93,345.82 515.46,343.96 513.93,342.75 515.87,342.67" fill="#000"/>
<polygon points="519.11,356.35 519.79,358.17 521.73,358.25 520.21,359.46 520.73,361.32 519.11,360.25 517.5,361.32 518.02,359.46 516.5,358.25 518.44,358.17" fill="#000"/>
<polygon points="525.16,356.35 525.84,358.17 527.78,358.25 526.26,359.46 526.78,361.32 525.16,360.25 523.55,361.32 524.07,359.46 522.55,358.25 524.49,358.17" fill="#000"/>
<line x1="544.73" y1="256.5" x2="568.01" y2="256.5" stroke="#333" stroke-width="0.9" />
<polygon points="556.02,248.65 556.7,250.47 558.64,250.55 557.11,251.76 557.64,253.62 556.02,252.55 554.4,253.62 554.93,251.76 553.4,250.55 555.34,250.47" fill="#000"/>
<polygon points="567.66,263.65 568.33,265.47 570.27,265.55 568.75,266.76 569.28,268.62 567.66,267.55 566.04,268.62 566.56,266.76 565.04,265.55 566.98,265.47" fill="#000"/>
<line x1="590.25" y1="339.5" x2="613.53" y2="339.5" stroke="#333" stroke-width="0.9" />
<polygon points="598.51,331.95 599.19,333.77 601.13,333.85 599.61,335.06 600.13,336.92 598.51,335.85 596.9,336.92 597.42,335.06 595.9,333.85 597.84,333.77" fill="#000"/>
<polygon points="604.56,331.95 605.24,333.77 607.18,333.85 605.66,335.06 606.18,336.92 604.56,335.85 602.95,336.92 603.47,335.06 601.95,333.85 603.89,333.77" fill="#000"/>
<polygon points="598.51,347.35 599.19,349.17 601.13,349.25 599.61,350.46 600.13,352.32 598.51,351.25 596.9,352.32 597.42,350.46 595.9,349.25 597.84,349.17" fill="#000"/>
<polygon points="604.56,347.35 605.24,349.17 607.18,349.25 605.66,350.46 606.18,352.32 604.56,351.25 602.95,352.32 603.47,350.46 601.95,349.25 603.89,349.17" fill="#000"/>
<rect x="483.6" y="247.2" width="190.8" height="161.4" fill="none" stroke="#7a7a7a" stroke-width="0.9"/>
<line x1="480.8" y1="401.2" x2="483.6" y2="401.2" stroke="#222" stroke-width="1" />
<text x="477" y="404.3" font-size="7.8" text-anchor="middle" font-weight="bold" font-style="normal" fill="#111" textLength="4" lengthAdjust="spacingAndGlyphs" >0</text>
<line x1="480.8" y1="351.3" x2="483.6" y2="351.3" stroke="#222" stroke-width="1" />
<text x="477" y="354.4" font-size="7.8" text-anchor="middle" font-weight="bold" font-style="normal" fill="#111" textLength="8" lengthAdjust="spacingAndGlyphs" >20</text>
<line x1="480.8" y1="301.4" x2="483.6" y2="301.4" stroke="#222" stroke-width="1" />
<text x="477" y="304.5" font-size="7.8" text-anchor="middle" font-weight="bold" font-style="normal" fill="#111" textLength="8" lengthAdjust="spacingAndGlyphs" >40</text>
<line x1="480.8" y1="251.5" x2="483.6" y2="251.5" stroke="#222" stroke-width="1" />
<text x="477" y="254.6" font-size="7.8" text-anchor="middle" font-weight="bold" font-style="normal" fill="#111" textLength="8" lengthAdjust="spacingAndGlyphs" >60</text>
<line x1="510.85" y1="408.6" x2="510.85" y2="411.4" stroke="#222" stroke-width="1" />
<text transform="translate(515.55,415.8) rotate(-45)" font-size="7.65" text-anchor="end" font-style="italic" fill="#222">Fucosylated</text>
<line x1="556.37" y1="408.6" x2="556.37" y2="411.4" stroke="#222" stroke-width="1" />
<text transform="translate(561.07,415.8) rotate(-45)" font-size="7.65" text-anchor="end" font-style="italic" fill="#222">Sialofucosylated</text>
<line x1="601.89" y1="408.6" x2="601.89" y2="411.4" stroke="#222" stroke-width="1" />
<text transform="translate(606.59,415.8) rotate(-45)" font-size="7.65" text-anchor="end" font-style="italic" fill="#222">Sialylated</text>
<line x1="647.41" y1="408.6" x2="647.41" y2="411.4" stroke="#222" stroke-width="1" />
<text transform="translate(652.11,415.8) rotate(-45)" font-size="7.65" text-anchor="end" font-style="italic" fill="#222">Undecorated</text>
<text transform="translate(468.6,327.9) scale(1.15,1) rotate(-90)" font-size="8.1" text-anchor="middle" font-weight="bold" fill="#000" textLength="75.5" lengthAdjust="spacingAndGlyphs">Percent Abundance</text>
<text x="1.1" y="474.2" font-size="9.8" text-anchor="start" font-weight="bold" font-style="normal" fill="#000" >E</text>
<line x1="26.4" y1="641.05" x2="399.6" y2="641.05" stroke="#dadada" stroke-width="0.6" stroke-dasharray="4.0,3.4" stroke-dashoffset="0.7"/>
<line x1="26.4" y1="597.94" x2="399.6" y2="597.94" stroke="#dadada" stroke-width="0.6" stroke-dasharray="4.0,3.4" stroke-dashoffset="0.7"/>
<line x1="26.4" y1="554.83" x2="399.6" y2="554.83" stroke="#dadada" stroke-width="0.6" stroke-dasharray="4.0,3.4" stroke-dashoffset="0.7"/>
<line x1="26.4" y1="511.72" x2="399.6" y2="511.72" stroke="#dadada" stroke-width="0.6" stroke-dasharray="4.0,3.4" stroke-dashoffset="0.7"/>
<line x1="26.4" y1="468.61" x2="399.6" y2="468.61" stroke="#dadada" stroke-width="0.6" stroke-dasharray="4.0,3.4" stroke-dashoffset="0.7"/>
<rect x="31.69" y="517.32" width="6.15" height="123.73" fill="#E64B35" stroke="#111" stroke-width="0.7"/>
<rect x="38.72" y="523.79" width="6.15" height="117.26" fill="#4DBBD5" stroke="#111" stroke-width="0.7"/>
<rect x="45.76" y="540.6" width="6.15" height="100.45" fill="#FBA315" stroke="#111" stroke-width="0.7"/>
<circle cx="35.4" cy="514" r="0.82" fill="#000"/>
<circle cx="35" cy="515.3" r="0.82" fill="#000"/>
<circle cx="34.6" cy="520.2" r="0.82" fill="#000"/>
<circle cx="36.3" cy="521.5" r="0.82" fill="#000"/>
<circle cx="35.8" cy="516.5" r="0.82" fill="#000"/>
<line x1="34.77" y1="519.05" x2="34.77" y2="515.6" stroke="#000" stroke-width="0.8" />
<circle cx="42.5" cy="513.1" r="0.82" fill="#000"/>
<circle cx="42.5" cy="519.7" r="0.82" fill="#000"/>
<circle cx="42" cy="528" r="0.82" fill="#000"/>
<circle cx="41.6" cy="534.6" r="0.82" fill="#000"/>
<circle cx="42.8" cy="520.5" r="0.82" fill="#000"/>
<line x1="41.8" y1="528.1" x2="41.8" y2="519.48" stroke="#000" stroke-width="0.8" />
<circle cx="47.7" cy="527.6" r="0.82" fill="#000"/>
<circle cx="48.2" cy="531.6" r="0.82" fill="#000"/>
<circle cx="47.7" cy="550" r="0.82" fill="#000"/>
<circle cx="49" cy="552.6" r="0.82" fill="#000"/>
<line x1="48.83" y1="545.91" x2="48.83" y2="535.3" stroke="#000" stroke-width="0.8" />
<rect x="58.06" y="542.33" width="6.15" height="98.72" fill="#E64B35" stroke="#111" stroke-width="0.7"/>
<rect x="65.09" y="538.45" width="6.15" height="102.6" fill="#4DBBD5" stroke="#111" stroke-width="0.7"/>
<rect x="72.13" y="528.53" width="6.15" height="112.52" fill="#FBA315" stroke="#111" stroke-width="0.7"/>
<circle cx="62.6" cy="529.8" r="0.82" fill="#000"/>
<circle cx="60.9" cy="536.4" r="0.82" fill="#000"/>
<circle cx="60.4" cy="539" r="0.82" fill="#000"/>
<circle cx="61.7" cy="543.4" r="0.82" fill="#000"/>
<circle cx="62.2" cy="550.8" r="0.82" fill="#000"/>
<line x1="61.14" y1="546.21" x2="61.14" y2="538.45" stroke="#000" stroke-width="0.8" />
<circle cx="68.8" cy="499.4" r="0.82" fill="#000"/>
<circle cx="68.3" cy="538.6" r="0.82" fill="#000"/>
<circle cx="67.9" cy="545.6" r="0.82" fill="#000"/>
<circle cx="68.8" cy="548.2" r="0.82" fill="#000"/>
<circle cx="67.4" cy="555.7" r="0.82" fill="#000"/>
<line x1="68.17" y1="546.34" x2="68.17" y2="530.56" stroke="#000" stroke-width="0.8" />
<circle cx="74.7" cy="509" r="0.82" fill="#000"/>
<circle cx="74.9" cy="521.5" r="0.82" fill="#000"/>
<circle cx="73.6" cy="523.7" r="0.82" fill="#000"/>
<circle cx="75.3" cy="541.6" r="0.82" fill="#000"/>
<circle cx="75.3" cy="546.9" r="0.82" fill="#000"/>
<line x1="75.2" y1="535.52" x2="75.2" y2="521.55" stroke="#000" stroke-width="0.8" />
<rect x="84.43" y="560.43" width="6.15" height="80.62" fill="#E64B35" stroke="#111" stroke-width="0.7"/>
<rect x="91.46" y="561.3" width="6.15" height="79.75" fill="#4DBBD5" stroke="#111" stroke-width="0.7"/>
<rect x="98.5" y="556.99" width="6.15" height="84.06" fill="#FBA315" stroke="#111" stroke-width="0.7"/>
<circle cx="88.4" cy="551.7" r="0.82" fill="#000"/>
<circle cx="87.8" cy="558.7" r="0.82" fill="#000"/>
<circle cx="87.3" cy="562.8" r="0.82" fill="#000"/>
<circle cx="87.8" cy="571.6" r="0.82" fill="#000"/>
<circle cx="88.8" cy="557.5" r="0.82" fill="#000"/>
<line x1="87.51" y1="563.02" x2="87.51" y2="557.85" stroke="#000" stroke-width="0.8" />
<circle cx="93.7" cy="554.6" r="0.82" fill="#000"/>
<circle cx="94.9" cy="558.7" r="0.82" fill="#000"/>
<circle cx="94.3" cy="564" r="0.82" fill="#000"/>
<circle cx="95.4" cy="568" r="0.82" fill="#000"/>
<line x1="94.54" y1="563.45" x2="94.54" y2="559.14" stroke="#000" stroke-width="0.8" />
<circle cx="101.9" cy="550.5" r="0.82" fill="#000"/>
<circle cx="101.9" cy="552.9" r="0.82" fill="#000"/>
<circle cx="102.5" cy="556.4" r="0.82" fill="#000"/>
<circle cx="101.9" cy="559.9" r="0.82" fill="#000"/>
<circle cx="101.3" cy="561.6" r="0.82" fill="#000"/>
<line x1="101.57" y1="560.43" x2="101.57" y2="553.54" stroke="#000" stroke-width="0.8" />
<rect x="110.8" y="613.03" width="6.15" height="28.02" fill="#E64B35" stroke="#111" stroke-width="0.7"/>
<rect x="117.83" y="611.3" width="6.15" height="29.75" fill="#4DBBD5" stroke="#111" stroke-width="0.7"/>
<rect x="124.87" y="613.46" width="6.15" height="27.59" fill="#FBA315" stroke="#111" stroke-width="0.7"/>
<circle cx="113" cy="607.2" r="0.82" fill="#000"/>
<circle cx="114.7" cy="610.1" r="0.82" fill="#000"/>
<circle cx="113.6" cy="614.8" r="0.82" fill="#000"/>
<circle cx="113.6" cy="617.1" r="0.82" fill="#000"/>
<line x1="113.88" y1="615.18" x2="113.88" y2="610.87" stroke="#000" stroke-width="0.8" />
<circle cx="121.7" cy="607.2" r="0.82" fill="#000"/>
<circle cx="120.6" cy="609" r="0.82" fill="#000"/>
<circle cx="120" cy="613.6" r="0.82" fill="#000"/>
<line x1="120.91" y1="613.03" x2="120.91" y2="609.58" stroke="#000" stroke-width="0.8" />
<circle cx="127" cy="612.5" r="0.82" fill="#000"/>
<circle cx="128.2" cy="613.6" r="0.82" fill="#000"/>
<circle cx="127.6" cy="614.2" r="0.82" fill="#000"/>
<line x1="127.94" y1="614.32" x2="127.94" y2="612.6" stroke="#000" stroke-width="0.8" />
<rect x="137.17" y="614.32" width="6.15" height="26.73" fill="#E64B35" stroke="#111" stroke-width="0.7"/>
<rect x="144.2" y="617.77" width="6.15" height="23.28" fill="#4DBBD5" stroke="#111" stroke-width="0.7"/>
<rect x="151.24" y="610.44" width="6.15" height="30.61" fill="#FBA315" stroke="#111" stroke-width="0.7"/>
<circle cx="141.19" cy="616.43" r="0.8" fill="#000"/>
<circle cx="140.17" cy="613.67" r="0.8" fill="#000"/>
<circle cx="139.55" cy="616.61" r="0.8" fill="#000"/>
<circle cx="140.27" cy="614.43" r="0.8" fill="#000"/>
<circle cx="139.35" cy="616.42" r="0.8" fill="#000"/>
<circle cx="139.81" cy="616.55" r="0.8" fill="#000"/>
<line x1="140.25" y1="615.18" x2="140.25" y2="613.46" stroke="#000" stroke-width="0.8" />
<circle cx="147.71" cy="611.16" r="0.8" fill="#000"/>
<circle cx="146.27" cy="613.54" r="0.8" fill="#000"/>
<circle cx="147.62" cy="606.69" r="0.8" fill="#000"/>
<circle cx="147.54" cy="619.02" r="0.8" fill="#000"/>
<circle cx="147.34" cy="617.36" r="0.8" fill="#000"/>
<circle cx="146.3" cy="617.14" r="0.8" fill="#000"/>
<line x1="147.28" y1="619.93" x2="147.28" y2="615.62" stroke="#000" stroke-width="0.8" />
<circle cx="153.27" cy="609.5" r="0.8" fill="#000"/>
<circle cx="154.23" cy="608.05" r="0.8" fill="#000"/>
<circle cx="154.35" cy="616.61" r="0.8" fill="#000"/>
<circle cx="154.62" cy="608.02" r="0.8" fill="#000"/>
<circle cx="154.22" cy="615.52" r="0.8" fill="#000"/>
<circle cx="153.82" cy="610.43" r="0.8" fill="#000"/>
<line x1="154.31" y1="612.17" x2="154.31" y2="608.72" stroke="#000" stroke-width="0.8" />
<rect x="163.54" y="621.22" width="6.15" height="19.83" fill="#E64B35" stroke="#111" stroke-width="0.7"/>
<rect x="170.57" y="613.03" width="6.15" height="28.02" fill="#4DBBD5" stroke="#111" stroke-width="0.7"/>
<rect x="177.61" y="623.37" width="6.15" height="17.68" fill="#FBA315" stroke="#111" stroke-width="0.7"/>
<circle cx="167.37" cy="612.68" r="0.8" fill="#000"/>
<circle cx="167.08" cy="621.35" r="0.8" fill="#000"/>
<circle cx="166.15" cy="621.96" r="0.8" fill="#000"/>
<circle cx="165.67" cy="619.51" r="0.8" fill="#000"/>
<circle cx="167.39" cy="620.95" r="0.8" fill="#000"/>
<circle cx="166.37" cy="623.82" r="0.8" fill="#000"/>
<line x1="166.62" y1="622.51" x2="166.62" y2="619.93" stroke="#000" stroke-width="0.8" />
<circle cx="172.54" cy="600.12" r="0.8" fill="#000"/>
<circle cx="173.01" cy="616.51" r="0.8" fill="#000"/>
<circle cx="174.71" cy="606.46" r="0.8" fill="#000"/>
<circle cx="173.42" cy="617.18" r="0.8" fill="#000"/>
<circle cx="174.27" cy="604.31" r="0.8" fill="#000"/>
<circle cx="173.14" cy="608.72" r="0.8" fill="#000"/>
<line x1="173.65" y1="616.48" x2="173.65" y2="609.58" stroke="#000" stroke-width="0.8" />
<circle cx="181.71" cy="622.05" r="0.8" fill="#000"/>
<circle cx="181.25" cy="622.57" r="0.8" fill="#000"/>
<circle cx="179.8" cy="622.42" r="0.8" fill="#000"/>
<circle cx="179.71" cy="622.5" r="0.8" fill="#000"/>
<circle cx="180.81" cy="623.06" r="0.8" fill="#000"/>
<circle cx="180.57" cy="624.41" r="0.8" fill="#000"/>
<line x1="180.68" y1="624.24" x2="180.68" y2="622.51" stroke="#000" stroke-width="0.8" />
<rect x="189.91" y="623.37" width="6.15" height="17.68" fill="#E64B35" stroke="#111" stroke-width="0.7"/>
<rect x="196.94" y="624.24" width="6.15" height="16.81" fill="#4DBBD5" stroke="#111" stroke-width="0.7"/>
<rect x="203.98" y="621.65" width="6.15" height="19.4" fill="#FBA315" stroke="#111" stroke-width="0.7"/>
<circle cx="192.17" cy="622.36" r="0.8" fill="#000"/>
<circle cx="193.31" cy="620.77" r="0.8" fill="#000"/>
<circle cx="192.35" cy="622.03" r="0.8" fill="#000"/>
<circle cx="192.48" cy="622.17" r="0.8" fill="#000"/>
<circle cx="192.55" cy="620.32" r="0.8" fill="#000"/>
<circle cx="193.84" cy="623.94" r="0.8" fill="#000"/>
<line x1="192.99" y1="624.24" x2="192.99" y2="622.51" stroke="#000" stroke-width="0.8" />
<circle cx="200.8" cy="623.82" r="0.8" fill="#000"/>
<circle cx="200.33" cy="622.56" r="0.8" fill="#000"/>
<circle cx="199.38" cy="620.04" r="0.8" fill="#000"/>
<circle cx="199.48" cy="621.17" r="0.8" fill="#000"/>
<circle cx="199.57" cy="624.02" r="0.8" fill="#000"/>
<circle cx="199.08" cy="625.76" r="0.8" fill="#000"/>
<line x1="200.02" y1="625.1" x2="200.02" y2="623.37" stroke="#000" stroke-width="0.8" />
<circle cx="206.48" cy="617.8" r="0.8" fill="#000"/>
<circle cx="207.28" cy="619.2" r="0.8" fill="#000"/>
<circle cx="208.07" cy="624.27" r="0.8" fill="#000"/>
<circle cx="207.02" cy="618.92" r="0.8" fill="#000"/>
<circle cx="206.35" cy="627.83" r="0.8" fill="#000"/>
<circle cx="206.29" cy="624.78" r="0.8" fill="#000"/>
<line x1="207.05" y1="623.37" x2="207.05" y2="619.93" stroke="#000" stroke-width="0.8" />
<rect x="216.28" y="629.84" width="6.15" height="11.21" fill="#E64B35" stroke="#111" stroke-width="0.7"/>
<rect x="223.31" y="631.13" width="6.15" height="9.92" fill="#4DBBD5" stroke="#111" stroke-width="0.7"/>
<rect x="230.35" y="630.7" width="6.15" height="10.35" fill="#FBA315" stroke="#111" stroke-width="0.7"/>
<circle cx="218.8" cy="628.51" r="0.8" fill="#000"/>
<circle cx="218.67" cy="630.71" r="0.8" fill="#000"/>
<circle cx="218.69" cy="629.98" r="0.8" fill="#000"/>
<circle cx="220.36" cy="631.88" r="0.8" fill="#000"/>
<circle cx="219.18" cy="628.98" r="0.8" fill="#000"/>
<circle cx="218.48" cy="630.63" r="0.8" fill="#000"/>
<line x1="219.36" y1="630.27" x2="219.36" y2="629.41" stroke="#000" stroke-width="0.8" />
<circle cx="225.81" cy="626.84" r="0.8" fill="#000"/>
<circle cx="226.84" cy="630.07" r="0.8" fill="#000"/>
<circle cx="226.6" cy="631.28" r="0.8" fill="#000"/>
<circle cx="225.93" cy="627.92" r="0.8" fill="#000"/>
<circle cx="225.43" cy="629.89" r="0.8" fill="#000"/>
<circle cx="225.79" cy="628.68" r="0.8" fill="#000"/>
<line x1="226.39" y1="632" x2="226.39" y2="630.27" stroke="#000" stroke-width="0.8" />
<circle cx="233.68" cy="633.84" r="0.8" fill="#000"/>
<circle cx="232.94" cy="631.93" r="0.8" fill="#000"/>
<circle cx="232.35" cy="629.69" r="0.8" fill="#000"/>
<circle cx="232.91" cy="631.28" r="0.8" fill="#000"/>
<circle cx="232.7" cy="631.28" r="0.8" fill="#000"/>
<circle cx="233.13" cy="630.5" r="0.8" fill="#000"/>
<line x1="233.42" y1="631.57" x2="233.42" y2="629.84" stroke="#000" stroke-width="0.8" />
<rect x="242.65" y="632.43" width="6.15" height="8.62" fill="#E64B35" stroke="#111" stroke-width="0.7"/>
<rect x="249.68" y="634.15" width="6.15" height="6.9" fill="#4DBBD5" stroke="#111" stroke-width="0.7"/>
<rect x="256.72" y="632.86" width="6.15" height="8.19" fill="#FBA315" stroke="#111" stroke-width="0.7"/>
<circle cx="245.42" cy="632.84" r="0.8" fill="#000"/>
<circle cx="246.59" cy="632.63" r="0.8" fill="#000"/>
<circle cx="246.15" cy="631.18" r="0.8" fill="#000"/>
<circle cx="245.92" cy="632.58" r="0.8" fill="#000"/>
<circle cx="244.66" cy="632.28" r="0.8" fill="#000"/>
<circle cx="246.64" cy="632.25" r="0.8" fill="#000"/>
<line x1="245.73" y1="632.86" x2="245.73" y2="632" stroke="#000" stroke-width="0.8" />
<circle cx="251.7" cy="634.82" r="0.8" fill="#000"/>
<circle cx="253.06" cy="636.26" r="0.8" fill="#000"/>
<circle cx="252.36" cy="635.54" r="0.8" fill="#000"/>
<circle cx="253.87" cy="634" r="0.8" fill="#000"/>
<circle cx="253.28" cy="633.19" r="0.8" fill="#000"/>
<circle cx="253.65" cy="633.66" r="0.8" fill="#000"/>
<line x1="252.76" y1="634.58" x2="252.76" y2="633.72" stroke="#000" stroke-width="0.8" />
<circle cx="260.44" cy="633.08" r="0.8" fill="#000"/>
<circle cx="260.71" cy="635.54" r="0.8" fill="#000"/>
<circle cx="260.68" cy="634.42" r="0.8" fill="#000"/>
<circle cx="260.61" cy="630.76" r="0.8" fill="#000"/>
<circle cx="260.6" cy="635.5" r="0.8" fill="#000"/>
<circle cx="259.95" cy="631.34" r="0.8" fill="#000"/>
<line x1="259.79" y1="633.72" x2="259.79" y2="632" stroke="#000" stroke-width="0.8" />
<rect x="269.02" y="634.58" width="6.15" height="6.47" fill="#E64B35" stroke="#111" stroke-width="0.7"/>
<rect x="276.05" y="634.58" width="6.15" height="6.47" fill="#4DBBD5" stroke="#111" stroke-width="0.7"/>
<rect x="283.09" y="633.29" width="6.15" height="7.76" fill="#FBA315" stroke="#111" stroke-width="0.7"/>
<circle cx="272.28" cy="635.78" r="0.8" fill="#000"/>
<circle cx="272.34" cy="635.78" r="0.8" fill="#000"/>
<circle cx="273.19" cy="632.43" r="0.8" fill="#000"/>
<circle cx="272.94" cy="633.39" r="0.8" fill="#000"/>
<circle cx="272.62" cy="634.82" r="0.8" fill="#000"/>
<circle cx="272.28" cy="636.28" r="0.8" fill="#000"/>
<line x1="272.1" y1="635.45" x2="272.1" y2="633.72" stroke="#000" stroke-width="0.8" />
<circle cx="278.21" cy="637.65" r="0.8" fill="#000"/>
<circle cx="279.68" cy="633.38" r="0.8" fill="#000"/>
<circle cx="279.09" cy="632.29" r="0.8" fill="#000"/>
<circle cx="278.53" cy="634.15" r="0.8" fill="#000"/>
<circle cx="279.38" cy="635.23" r="0.8" fill="#000"/>
<circle cx="280.06" cy="636.5" r="0.8" fill="#000"/>
<line x1="279.13" y1="635.45" x2="279.13" y2="633.72" stroke="#000" stroke-width="0.8" />
<circle cx="285.72" cy="633.3" r="0.8" fill="#000"/>
<circle cx="286.56" cy="632.9" r="0.8" fill="#000"/>
<circle cx="287.06" cy="632.83" r="0.8" fill="#000"/>
<circle cx="286.52" cy="631.78" r="0.8" fill="#000"/>
<circle cx="285.78" cy="638.39" r="0.8" fill="#000"/>
<circle cx="286.53" cy="631.34" r="0.8" fill="#000"/>
<line x1="286.16" y1="634.58" x2="286.16" y2="632" stroke="#000" stroke-width="0.8" />
<rect x="295.39" y="638.03" width="6.15" height="3.02" fill="#E64B35" stroke="#111" stroke-width="0.7"/>
<rect x="302.42" y="637.39" width="6.15" height="3.66" fill="#4DBBD5" stroke="#111" stroke-width="0.7"/>
<rect x="309.46" y="638.03" width="6.15" height="3.02" fill="#FBA315" stroke="#111" stroke-width="0.7"/>
<circle cx="299.15" cy="637.89" r="0.8" fill="#000"/>
<circle cx="299.39" cy="637.6" r="0.8" fill="#000"/>
<circle cx="298.65" cy="637.72" r="0.8" fill="#000"/>
<circle cx="298.06" cy="638.32" r="0.8" fill="#000"/>
<circle cx="299.21" cy="637.7" r="0.8" fill="#000"/>
<circle cx="299.24" cy="637.65" r="0.8" fill="#000"/>
<line x1="298.47" y1="638.25" x2="298.47" y2="637.82" stroke="#000" stroke-width="0.8" />
<circle cx="305.01" cy="637.64" r="0.8" fill="#000"/>
<circle cx="304.77" cy="638.41" r="0.8" fill="#000"/>
<circle cx="304.87" cy="637.72" r="0.8" fill="#000"/>
<circle cx="305.31" cy="637.28" r="0.8" fill="#000"/>
<circle cx="305.09" cy="637.74" r="0.8" fill="#000"/>
<circle cx="306.25" cy="637.74" r="0.8" fill="#000"/>
<line x1="305.5" y1="637.6" x2="305.5" y2="637.17" stroke="#000" stroke-width="0.8" />
<circle cx="311.59" cy="637.56" r="0.8" fill="#000"/>
<circle cx="311.49" cy="638.09" r="0.8" fill="#000"/>
<circle cx="312.99" cy="637.94" r="0.8" fill="#000"/>
<circle cx="312.69" cy="638.12" r="0.8" fill="#000"/>
<circle cx="311.47" cy="638.31" r="0.8" fill="#000"/>
<circle cx="311.73" cy="637.32" r="0.8" fill="#000"/>
<line x1="312.53" y1="638.25" x2="312.53" y2="637.82" stroke="#000" stroke-width="0.8" />
<rect x="321.76" y="639.33" width="6.15" height="1.72" fill="#E64B35" stroke="#111" stroke-width="0.7"/>
<rect x="328.79" y="638.46" width="6.15" height="2.59" fill="#4DBBD5" stroke="#111" stroke-width="0.7"/>
<rect x="335.83" y="637.17" width="6.15" height="3.88" fill="#FBA315" stroke="#111" stroke-width="0.7"/>
<circle cx="325.57" cy="639.42" r="0.8" fill="#000"/>
<circle cx="324.26" cy="639.3" r="0.8" fill="#000"/>
<circle cx="325.12" cy="639.24" r="0.8" fill="#000"/>
<circle cx="324.72" cy="639.22" r="0.8" fill="#000"/>
<circle cx="325.52" cy="639.76" r="0.8" fill="#000"/>
<circle cx="325.85" cy="639.78" r="0.8" fill="#000"/>
<line x1="324.84" y1="639.54" x2="324.84" y2="639.11" stroke="#000" stroke-width="0.8" />
<circle cx="331.81" cy="638.69" r="0.8" fill="#000"/>
<circle cx="331.16" cy="638.99" r="0.8" fill="#000"/>
<circle cx="332.34" cy="637.49" r="0.8" fill="#000"/>
<circle cx="331.16" cy="638.4" r="0.8" fill="#000"/>
<circle cx="332.31" cy="638.57" r="0.8" fill="#000"/>
<circle cx="331.92" cy="637.68" r="0.8" fill="#000"/>
<line x1="331.87" y1="638.89" x2="331.87" y2="638.03" stroke="#000" stroke-width="0.8" />
<circle cx="338.67" cy="639.35" r="0.8" fill="#000"/>
<circle cx="339.55" cy="639.08" r="0.8" fill="#000"/>
<circle cx="339.86" cy="636.56" r="0.8" fill="#000"/>
<circle cx="339.39" cy="637.58" r="0.8" fill="#000"/>
<circle cx="339.18" cy="635.87" r="0.8" fill="#000"/>
<circle cx="339.81" cy="635.79" r="0.8" fill="#000"/>
<line x1="338.9" y1="638.03" x2="338.9" y2="636.31" stroke="#000" stroke-width="0.8" />
<rect x="348.13" y="638.46" width="6.15" height="2.59" fill="#E64B35" stroke="#111" stroke-width="0.7"/>
<rect x="355.16" y="638.46" width="6.15" height="2.59" fill="#4DBBD5" stroke="#111" stroke-width="0.7"/>
<rect x="362.2" y="638.46" width="6.15" height="2.59" fill="#FBA315" stroke="#111" stroke-width="0.7"/>
<circle cx="352.05" cy="638.86" r="0.8" fill="#000"/>
<circle cx="351.87" cy="638.07" r="0.8" fill="#000"/>
<circle cx="351.54" cy="638.01" r="0.8" fill="#000"/>
<circle cx="350.55" cy="638.63" r="0.8" fill="#000"/>
<circle cx="351.52" cy="638.6" r="0.8" fill="#000"/>
<circle cx="351.69" cy="639.25" r="0.8" fill="#000"/>
<line x1="351.21" y1="638.68" x2="351.21" y2="638.25" stroke="#000" stroke-width="0.8" />
<circle cx="359.3" cy="638.25" r="0.8" fill="#000"/>
<circle cx="359.3" cy="637.56" r="0.8" fill="#000"/>
<circle cx="357.84" cy="639.21" r="0.8" fill="#000"/>
<circle cx="359.15" cy="638.64" r="0.8" fill="#000"/>
<circle cx="357.32" cy="638.22" r="0.8" fill="#000"/>
<circle cx="358.11" cy="638.78" r="0.8" fill="#000"/>
<line x1="358.24" y1="638.68" x2="358.24" y2="638.25" stroke="#000" stroke-width="0.8" />
<circle cx="365.24" cy="639.16" r="0.8" fill="#000"/>
<circle cx="364.23" cy="638.69" r="0.8" fill="#000"/>
<circle cx="365.94" cy="638.41" r="0.8" fill="#000"/>
<circle cx="364.55" cy="638.61" r="0.8" fill="#000"/>
<circle cx="364.48" cy="638.85" r="0.8" fill="#000"/>
<circle cx="364.49" cy="637.81" r="0.8" fill="#000"/>
<line x1="365.27" y1="638.68" x2="365.27" y2="638.25" stroke="#000" stroke-width="0.8" />
<rect x="374.5" y="639.97" width="6.15" height="1.08" fill="#E64B35" stroke="#111" stroke-width="0.7"/>
<rect x="381.53" y="639.76" width="6.15" height="1.29" fill="#4DBBD5" stroke="#111" stroke-width="0.7"/>
<rect x="388.57" y="639.54" width="6.15" height="1.51" fill="#FBA315" stroke="#111" stroke-width="0.7"/>
<circle cx="378.33" cy="640.38" r="0.8" fill="#000"/>
<circle cx="378" cy="640.02" r="0.8" fill="#000"/>
<circle cx="378.57" cy="639.69" r="0.8" fill="#000"/>
<circle cx="376.66" cy="640.07" r="0.8" fill="#000"/>
<circle cx="377.11" cy="639.92" r="0.8" fill="#000"/>
<circle cx="378.08" cy="639.66" r="0.8" fill="#000"/>
<line x1="377.58" y1="640.1" x2="377.58" y2="639.84" stroke="#000" stroke-width="0.8" />
<circle cx="385.37" cy="639.96" r="0.8" fill="#000"/>
<circle cx="384.74" cy="640" r="0.8" fill="#000"/>
<circle cx="385.37" cy="639.85" r="0.8" fill="#000"/>
<circle cx="385.5" cy="639.52" r="0.8" fill="#000"/>
<circle cx="385.65" cy="639.63" r="0.8" fill="#000"/>
<circle cx="384.66" cy="639.27" r="0.8" fill="#000"/>
<line x1="384.61" y1="639.89" x2="384.61" y2="639.63" stroke="#000" stroke-width="0.8" />
<circle cx="391.72" cy="639.7" r="0.8" fill="#000"/>
<circle cx="391.65" cy="639.62" r="0.8" fill="#000"/>
<circle cx="392.68" cy="639.59" r="0.8" fill="#000"/>
<circle cx="391.68" cy="639.58" r="0.8" fill="#000"/>
<circle cx="391.78" cy="639.92" r="0.8" fill="#000"/>
<circle cx="391.62" cy="639.27" r="0.8" fill="#000"/>
<line x1="391.64" y1="639.67" x2="391.64" y2="639.41" stroke="#000" stroke-width="0.8" />
<line x1="35.27" y1="492.5" x2="48.33" y2="492.5" stroke="#333" stroke-width="0.9" />
<polygon points="35.4,483.15 36.08,484.97 38.02,485.05 36.49,486.26 37.02,488.12 35.4,487.05 33.78,488.12 34.31,486.26 32.78,485.05 34.72,484.97" fill="#000"/>
<polygon points="41.45,483.15 42.13,484.97 44.07,485.05 42.54,486.26 43.07,488.12 41.45,487.05 39.83,488.12 40.36,486.26 38.83,485.05 40.77,484.97" fill="#000"/>
<polygon points="47.5,483.15 48.18,484.97 50.12,485.05 48.59,486.26 49.12,488.12 47.5,487.05 45.88,488.12 46.41,486.26 44.88,485.05 46.82,484.97" fill="#000"/>
<polygon points="41.93,500.25 42.61,502.07 44.55,502.15 43.03,503.36 43.55,505.22 41.93,504.15 40.32,505.22 40.84,503.36 39.32,502.15 41.26,502.07" fill="#000"/>
<polygon points="47.98,500.25 48.66,502.07 50.6,502.15 49.08,503.36 49.6,505.22 47.98,504.15 46.37,505.22 46.89,503.36 45.37,502.15 47.31,502.07" fill="#000"/>
<polygon points="54.03,500.25 54.71,502.07 56.65,502.15 55.13,503.36 55.65,505.22 54.03,504.15 52.42,505.22 52.94,503.36 51.42,502.15 53.36,502.07" fill="#000"/>
<line x1="140.75" y1="587.5" x2="153.81" y2="587.5" stroke="#333" stroke-width="0.9" />
<polygon points="143.91,578.45 144.58,580.27 146.52,580.35 145,581.56 145.52,583.42 143.91,582.35 142.29,583.42 142.81,581.56 141.29,580.35 143.23,580.27" fill="#000"/>
<polygon points="149.96,578.45 150.63,580.27 152.57,580.35 151.05,581.56 151.57,583.42 149.96,582.35 148.34,583.42 148.86,581.56 147.34,580.35 149.28,580.27" fill="#000"/>
<polygon points="153.46,595.55 154.14,597.37 156.08,597.45 154.56,598.66 155.08,600.52 153.46,599.45 151.85,600.52 152.37,598.66 150.85,597.45 152.79,597.37" fill="#000"/>
<line x1="167.12" y1="586.5" x2="180.18" y2="586.5" stroke="#333" stroke-width="0.9" />
<polygon points="167.25,577.25 167.93,579.07 169.87,579.15 168.34,580.36 168.87,582.22 167.25,581.15 165.63,582.22 166.16,580.36 164.63,579.15 166.57,579.07" fill="#000"/>
<polygon points="173.3,577.25 173.98,579.07 175.92,579.15 174.39,580.36 174.92,582.22 173.3,581.15 171.68,582.22 172.21,580.36 170.68,579.15 172.62,579.07" fill="#000"/>
<polygon points="179.35,577.25 180.03,579.07 181.97,579.15 180.44,580.36 180.97,582.22 179.35,581.15 177.73,582.22 178.26,580.36 176.73,579.15 178.67,579.07" fill="#000"/>
<polygon points="170.27,594.25 170.95,596.07 172.89,596.15 171.37,597.36 171.89,599.22 170.27,598.15 168.66,599.22 169.18,597.36 167.66,596.15 169.6,596.07" fill="#000"/>
<polygon points="176.32,594.25 177,596.07 178.94,596.15 177.42,597.36 177.94,599.22 176.32,598.15 174.71,599.22 175.23,597.36 173.71,596.15 175.65,596.07" fill="#000"/>
<line x1="246.23" y1="611.5" x2="259.29" y2="611.5" stroke="#333" stroke-width="0.9" />
<polygon points="249.38,602.25 250.06,604.07 252,604.15 250.48,605.36 251,607.22 249.38,606.15 247.77,607.22 248.29,605.36 246.77,604.15 248.71,604.07" fill="#000"/>
<polygon points="255.44,602.25 256.11,604.07 258.05,604.15 256.53,605.36 257.05,607.22 255.44,606.15 253.82,607.22 254.34,605.36 252.82,604.15 254.76,604.07" fill="#000"/>
<polygon points="249.38,619.15 250.06,620.97 252,621.05 250.48,622.26 251,624.12 249.38,623.05 247.77,624.12 248.29,622.26 246.77,621.05 248.71,620.97" fill="#000"/>
<polygon points="255.44,619.15 256.11,620.97 258.05,621.05 256.53,622.26 257.05,624.12 255.44,623.05 253.82,624.12 254.34,622.26 252.82,621.05 254.76,620.97" fill="#000"/>
<line x1="298.97" y1="615.5" x2="312.03" y2="615.5" stroke="#333" stroke-width="0.9" />
<polygon points="305.15,606.45 305.83,608.27 307.77,608.35 306.24,609.56 306.77,611.42 305.15,610.35 303.53,611.42 304.06,609.56 302.53,608.35 304.47,608.27" fill="#000"/>
<polygon points="305.15,623.75 305.83,625.57 307.77,625.65 306.24,626.86 306.77,628.72 305.15,627.65 303.53,628.72 304.06,626.86 302.53,625.65 304.47,625.57" fill="#000"/>
<line x1="325.34" y1="615.5" x2="338.4" y2="615.5" stroke="#333" stroke-width="0.9" />
<polygon points="331.52,606.05 332.2,607.87 334.14,607.95 332.61,609.16 333.14,611.02 331.52,609.95 329.9,611.02 330.43,609.16 328.9,607.95 330.84,607.87" fill="#000"/>
<polygon points="338.05,623.35 338.73,625.17 340.67,625.25 339.15,626.46 339.67,628.32 338.05,627.25 336.44,628.32 336.96,626.46 335.44,625.25 337.38,625.17" fill="#000"/>
<line x1="378.08" y1="618.5" x2="391.14" y2="618.5" stroke="#333" stroke-width="0.9" />
<polygon points="384.26,609.45 384.94,611.27 386.88,611.35 385.35,612.56 385.88,614.42 384.26,613.35 382.64,614.42 383.17,612.56 381.64,611.35 383.58,611.27" fill="#000"/>
<polygon points="390.79,626.25 391.47,628.07 393.41,628.15 391.89,629.36 392.41,631.22 390.79,630.15 389.18,631.22 389.7,629.36 388.18,628.15 390.12,628.07" fill="#000"/>
<rect x="26.4" y="467.6" width="373.2" height="181.7" fill="none" stroke="#7a7a7a" stroke-width="0.9"/>
<line x1="23.6" y1="641.05" x2="26.4" y2="641.05" stroke="#222" stroke-width="1" />
<text x="19.3" y="644.15" font-size="7.8" text-anchor="middle" font-weight="bold" font-style="normal" fill="#111" textLength="4" lengthAdjust="spacingAndGlyphs" >0</text>
<line x1="23.6" y1="597.94" x2="26.4" y2="597.94" stroke="#222" stroke-width="1" />
<text x="19.3" y="601.04" font-size="7.8" text-anchor="middle" font-weight="bold" font-style="normal" fill="#111" textLength="8" lengthAdjust="spacingAndGlyphs" >10</text>
<line x1="23.6" y1="554.83" x2="26.4" y2="554.83" stroke="#222" stroke-width="1" />
<text x="19.3" y="557.93" font-size="7.8" text-anchor="middle" font-weight="bold" font-style="normal" fill="#111" textLength="8" lengthAdjust="spacingAndGlyphs" >20</text>
<line x1="23.6" y1="511.72" x2="26.4" y2="511.72" stroke="#222" stroke-width="1" />
<text x="19.3" y="514.82" font-size="7.8" text-anchor="middle" font-weight="bold" font-style="normal" fill="#111" textLength="8" lengthAdjust="spacingAndGlyphs" >30</text>
<line x1="23.6" y1="468.61" x2="26.4" y2="468.61" stroke="#222" stroke-width="1" />
<text x="19.3" y="471.71" font-size="7.8" text-anchor="middle" font-weight="bold" font-style="normal" fill="#111" textLength="8" lengthAdjust="spacingAndGlyphs" >40</text>
<line x1="41.8" y1="649.3" x2="41.8" y2="652.1" stroke="#222" stroke-width="1" />
<text transform="translate(46.1,656.1) rotate(-45)" font-size="7.5" text-anchor="end" font-style="italic" fill="#222">C-FS</text>
<line x1="68.17" y1="649.3" x2="68.17" y2="652.1" stroke="#222" stroke-width="1" />
<text transform="translate(72.47,656.1) rotate(-45)" font-size="7.5" text-anchor="end" font-style="italic" fill="#222">Oligo</text>
<line x1="94.54" y1="649.3" x2="94.54" y2="652.1" stroke="#222" stroke-width="1" />
<text transform="translate(98.84,656.1) rotate(-45)" font-size="7.5" text-anchor="end" font-style="italic" fill="#222">CH-FS</text>
<line x1="120.91" y1="649.3" x2="120.91" y2="652.1" stroke="#222" stroke-width="1" />
<text transform="translate(125.21,656.1) rotate(-45)" font-size="7.5" text-anchor="end" font-style="italic" fill="#222">CH-S</text>
<line x1="147.28" y1="649.3" x2="147.28" y2="652.1" stroke="#222" stroke-width="1" />
<text transform="translate(151.58,656.1) rotate(-45)" font-size="7.5" text-anchor="end" font-style="italic" fill="#222">C-F</text>
<line x1="173.65" y1="649.3" x2="173.65" y2="652.1" stroke="#222" stroke-width="1" />
<text transform="translate(177.95,656.1) rotate(-45)" font-size="7.5" text-anchor="end" font-style="italic" fill="#222">C-S</text>
<line x1="200.02" y1="649.3" x2="200.02" y2="652.1" stroke="#222" stroke-width="1" />
<text transform="translate(204.32,656.1) rotate(-45)" font-size="7.5" text-anchor="end" font-style="italic" fill="#222">CH-F</text>
<line x1="226.39" y1="649.3" x2="226.39" y2="652.1" stroke="#222" stroke-width="1" />
<text transform="translate(230.69,656.1) rotate(-45)" font-size="7.5" text-anchor="end" font-style="italic" fill="#222">H-S</text>
<line x1="252.76" y1="649.3" x2="252.76" y2="652.1" stroke="#222" stroke-width="1" />
<text transform="translate(257.06,656.1) rotate(-45)" font-size="7.5" text-anchor="end" font-style="italic" fill="#222">H</text>
<line x1="279.13" y1="649.3" x2="279.13" y2="652.1" stroke="#222" stroke-width="1" />
<text transform="translate(283.43,656.1) rotate(-45)" font-size="7.5" text-anchor="end" font-style="italic" fill="#222">CH</text>
<line x1="305.5" y1="649.3" x2="305.5" y2="652.1" stroke="#222" stroke-width="1" />
<text transform="translate(309.8,656.1) rotate(-45)" font-size="7.5" text-anchor="end" font-style="italic" fill="#222">Oligo-F</text>
<line x1="331.87" y1="649.3" x2="331.87" y2="652.1" stroke="#222" stroke-width="1" />
<text transform="translate(336.17,656.1) rotate(-45)" font-size="7.5" text-anchor="end" font-style="italic" fill="#222">C</text>
<line x1="358.24" y1="649.3" x2="358.24" y2="652.1" stroke="#222" stroke-width="1" />
<text transform="translate(362.54,656.1) rotate(-45)" font-size="7.5" text-anchor="end" font-style="italic" fill="#222">H-FS</text>
<line x1="384.61" y1="649.3" x2="384.61" y2="652.1" stroke="#222" stroke-width="1" />
<text transform="translate(388.91,656.1) rotate(-45)" font-size="7.5" text-anchor="end" font-style="italic" fill="#222">H-F</text>
<text transform="translate(10.8,558.45) scale(1.15,1) rotate(-90)" font-size="8.1" text-anchor="middle" font-weight="bold" fill="#000" textLength="75.5" lengthAdjust="spacingAndGlyphs">Percent Abundance</text>
<text x="412.6" y="474.2" font-size="9.8" text-anchor="start" font-weight="bold" font-style="normal" fill="#000" >F</text>
<defs><clipPath id="cpF"><rect x="438.6" y="467.6" width="235.7" height="197.8"/></clipPath></defs>
<g clip-path="url(#cpF)">
<line x1="438.6" y1="661.6" x2="674.3" y2="661.6" stroke="#dadada" stroke-width="0.6" stroke-dasharray="4.0,3.4" stroke-dashoffset="0.7"/>
<line x1="438.6" y1="596.4" x2="674.3" y2="596.4" stroke="#dadada" stroke-width="0.6" stroke-dasharray="4.0,3.4" stroke-dashoffset="0.7"/>
<line x1="438.6" y1="531.2" x2="674.3" y2="531.2" stroke="#dadada" stroke-width="0.6" stroke-dasharray="4.0,3.4" stroke-dashoffset="0.7"/>
<ellipse cx="594.4" cy="528.3" rx="70.6" ry="33.3" transform="rotate(8.4 594.4 528.3)" fill="#fef5e6" stroke="#F5A623" stroke-width="0.9"/>
<ellipse cx="562.5" cy="628.4" rx="74.6" ry="9.9" transform="rotate(11.8 562.5 628.4)" fill="#eaf6fa" stroke="#3fb3d0" stroke-width="0.9"/>
<ellipse cx="586.0" cy="621.3" rx="21.8" ry="5.4" transform="rotate(-7 586.0 621.3)" fill="#E64B35" fill-opacity="0.12" stroke="#E64B35" stroke-width="0.9"/>
<line x1="438.6" y1="596.4" x2="674.3" y2="596.4" stroke="#111" stroke-width="1" stroke-dasharray="3.05,2.85" stroke-dashoffset="3.0"/>
<line x1="580.4" y1="467.6" x2="580.4" y2="665.4" stroke="#111" stroke-width="1" stroke-dasharray="2.9,2.87" stroke-dashoffset="1.22"/>
<rect x="585.25" y="475.35" width="2.5" height="2.5" fill="#FBA315"/>
<text x="586.4" y="473.2" font-size="8.3" text-anchor="middle" font-weight="normal" font-style="normal" fill="#FBA315" textLength="19.29" lengthAdjust="spacingAndGlyphs" >LPS6</text>
<rect x="491.05" y="524.45" width="2.5" height="2.5" fill="#FBA315"/>
<text x="492.9" y="521.9" font-size="8.3" text-anchor="middle" font-weight="normal" font-style="normal" fill="#FBA315" textLength="19.29" lengthAdjust="spacingAndGlyphs" >LPS5</text>
<rect x="653.05" y="530.95" width="2.5" height="2.5" fill="#FBA315"/>
<text x="654.4" y="529" font-size="8.3" text-anchor="middle" font-weight="normal" font-style="normal" fill="#FBA315" textLength="19.29" lengthAdjust="spacingAndGlyphs" >LPS2</text>
<rect x="640.35" y="550.55" width="2.5" height="2.5" fill="#FBA315"/>
<text x="641.6" y="548.7" font-size="8.3" text-anchor="middle" font-weight="normal" font-style="normal" fill="#FBA315" textLength="19.29" lengthAdjust="spacingAndGlyphs" >LPS1</text>
<rect x="594.25" y="554.05" width="2.5" height="2.5" fill="#FBA315"/>
<text x="595.4" y="552.1" font-size="8.3" text-anchor="middle" font-weight="normal" font-style="normal" fill="#FBA315" textLength="19.29" lengthAdjust="spacingAndGlyphs" >LPS4</text>
<rect x="591.6" y="526.1" width="4.4" height="4.4" fill="#FBA315"/>
<circle cx="556.9" cy="627.3" r="1.15" fill="#E64B35"/>
<circle cx="588.1" cy="615.4" r="1.15" fill="#E64B35"/>
<circle cx="609.4" cy="613.8" r="1.15" fill="#E64B35"/>
<circle cx="582.8" cy="626.7" r="1.15" fill="#E64B35"/>
<circle cx="613" cy="624.2" r="1.15" fill="#E64B35"/>
<circle cx="570.6" cy="619.6" r="1.15" fill="#E64B35"/>
<rect x="584.9" y="618.9" width="4.4" height="4.4" fill="#E64B35"/>
<text x="557" y="624" font-size="8.3" text-anchor="middle" font-weight="normal" font-style="normal" fill="#E64B35" textLength="29.8" lengthAdjust="spacingAndGlyphs" >Control6</text>
<text x="570.6" y="616" font-size="8.3" text-anchor="middle" font-weight="normal" font-style="normal" fill="#E64B35" textLength="29.8" lengthAdjust="spacingAndGlyphs" >Control5</text>
<text x="587.8" y="612" font-size="8.3" text-anchor="middle" font-weight="normal" font-style="normal" fill="#E64B35" textLength="29.8" lengthAdjust="spacingAndGlyphs" >Control4</text>
<text x="609.9" y="610.4" font-size="8.3" text-anchor="middle" font-weight="normal" font-style="normal" fill="#E64B35" textLength="29.8" lengthAdjust="spacingAndGlyphs" >Control2</text>
<text x="583.7" y="622.7" font-size="8.3" text-anchor="middle" font-weight="normal" font-style="normal" fill="#E64B35" textLength="29.8" lengthAdjust="spacingAndGlyphs" >Control3</text>
<text x="613.3" y="620.7" font-size="8.3" text-anchor="middle" font-weight="normal" font-style="normal" fill="#E64B35" textLength="29.8" lengthAdjust="spacingAndGlyphs" >Control1</text>
<polygon points="448.6,609.44 450.2,612.21 447,612.21" fill="#4DBBD5"/>
<polygon points="490.4,604.94 492,607.71 488.8,607.71" fill="#4DBBD5"/>
<polygon points="612.8,654.94 614.4,657.71 611.2,657.71" fill="#4DBBD5"/>
<polygon points="607.2,629.84 608.8,632.61 605.6,632.61" fill="#4DBBD5"/>
<polygon points="608,628.34 609.6,631.11 606.4,631.11" fill="#4DBBD5"/>
<polygon points="606.5,630.64 608.1,633.41 604.9,633.41" fill="#4DBBD5"/>
<polygon points="562.6,624.68 565.6,629.88 559.6,629.88" fill="#4DBBD5"/>
<text x="449" y="607.8" font-size="8.3" text-anchor="middle" font-weight="normal" font-style="normal" fill="#4DBBD5" textLength="20.31" lengthAdjust="spacingAndGlyphs" >A&#946;O6</text>
<text x="490.2" y="603.1" font-size="8.3" text-anchor="middle" font-weight="normal" font-style="normal" fill="#4DBBD5" textLength="20.31" lengthAdjust="spacingAndGlyphs" >A&#946;O5</text>
<text x="613" y="653.7" font-size="8.3" text-anchor="middle" font-weight="normal" font-style="normal" fill="#4DBBD5" textLength="20.31" lengthAdjust="spacingAndGlyphs" >A&#946;O4</text>
<text x="609.5" y="627.8" font-size="8.3" text-anchor="middle" font-weight="normal" font-style="normal" fill="#4DBBD5" textLength="20.31" lengthAdjust="spacingAndGlyphs" >A&#946;O1</text>
<text x="607.2" y="629.2" font-size="8.3" text-anchor="middle" font-weight="normal" font-style="normal" fill="#4DBBD5" textLength="20.31" lengthAdjust="spacingAndGlyphs" >A&#946;O2</text>
<text x="608.6" y="628.2" font-size="8.3" text-anchor="middle" font-weight="normal" font-style="normal" fill="#4DBBD5" textLength="20.31" lengthAdjust="spacingAndGlyphs" >A&#946;O3</text>
</g>
<rect x="438.6" y="467.6" width="235.7" height="197.8" fill="none" stroke="#7a7a7a" stroke-width="0.9"/>
<line x1="435.8" y1="661.6" x2="438.6" y2="661.6" stroke="#222" stroke-width="1" />
<text x="430.8" y="664.6" font-size="7.8" text-anchor="middle" font-weight="bold" font-style="normal" fill="#111" textLength="6.2" lengthAdjust="spacingAndGlyphs" >-5</text>
<line x1="435.8" y1="596.4" x2="438.6" y2="596.4" stroke="#222" stroke-width="1" />
<text x="430.8" y="599.4" font-size="7.8" text-anchor="middle" font-weight="bold" font-style="normal" fill="#111" textLength="4" lengthAdjust="spacingAndGlyphs" >0</text>
<line x1="435.8" y1="531.2" x2="438.6" y2="531.2" stroke="#222" stroke-width="1" />
<text x="430.8" y="534.2" font-size="7.8" text-anchor="middle" font-weight="bold" font-style="normal" fill="#111" textLength="4" lengthAdjust="spacingAndGlyphs" >5</text>
<line x1="473.4" y1="665.4" x2="473.4" y2="668.2" stroke="#222" stroke-width="1" />
<text x="473.4" y="674.3" font-size="7.6" text-anchor="middle" font-weight="normal" font-style="italic" fill="#222" >-10</text>
<line x1="526.9" y1="665.4" x2="526.9" y2="668.2" stroke="#222" stroke-width="1" />
<text x="526.9" y="674.3" font-size="7.6" text-anchor="middle" font-weight="normal" font-style="italic" fill="#222" >-5</text>
<line x1="580.4" y1="665.4" x2="580.4" y2="668.2" stroke="#222" stroke-width="1" />
<text x="580.4" y="674.3" font-size="7.6" text-anchor="middle" font-weight="normal" font-style="italic" fill="#222" >0</text>
<line x1="633.9" y1="665.4" x2="633.9" y2="668.2" stroke="#222" stroke-width="1" />
<text x="633.9" y="674.3" font-size="7.6" text-anchor="middle" font-weight="normal" font-style="italic" fill="#222" >5</text>
<text x="526.8" y="683.3" font-size="9" text-anchor="start" font-weight="bold" font-style="normal" fill="#000" textLength="58.6" lengthAdjust="spacingAndGlyphs" >Dim1 (26.3%)</text>
<text transform="translate(421.2,566.2) rotate(-90)" font-size="8.1" text-anchor="middle" font-weight="bold" fill="#000" textLength="48.5" lengthAdjust="spacingAndGlyphs">Dim2 (14.2%)</text>
</svg>
</body></html>
